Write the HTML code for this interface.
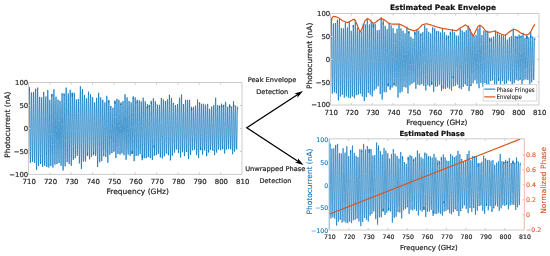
<!DOCTYPE html>
<html><head><meta charset="utf-8"><title>Fringe analysis</title>
<style>html,body{margin:0;padding:0;background:#fff;width:550px;height:256px;overflow:hidden}
svg{display:block} text{font-family:'DejaVu Sans','Liberation Sans',sans-serif}</style></head>
<body><svg width="550" height="256" viewBox="0 0 550 256">
<rect width="550" height="256" fill="#fff"/>
<clipPath id="c1"><rect x="28.5" y="82.5" width="213.5" height="91.9"/></clipPath>
<clipPath id="c2"><rect x="330.5" y="13.5" width="208.5" height="91.5"/></clipPath>
<clipPath id="c3"><rect x="329.2" y="138.8" width="195.09999999999997" height="91.19999999999999"/></clipPath>
<filter id="bl" x="-5%" y="-5%" width="110%" height="110%"><feGaussianBlur stdDeviation="0.3"/></filter>
<g filter="url(#bl)"><polyline clip-path="url(#c1)" fill="none" stroke="#0072BD" stroke-width="0.72" stroke-linejoin="round" points="28.50,157.33 28.61,155.66 28.71,147.11 28.82,130.93 28.93,121.93 29.03,108.23 29.14,96.60 29.25,93.94 29.35,91.20 29.46,87.25 29.57,92.01 29.67,100.41 29.78,110.41 29.89,124.12 29.99,137.64 30.10,146.43 30.21,156.92 30.31,162.90 30.42,161.97 30.53,161.09 30.63,154.77 30.74,148.92 30.85,137.82 30.96,127.01 31.06,115.64 31.17,103.94 31.28,98.52 31.38,92.50 31.49,92.50 31.60,92.50 31.70,105.43 31.81,110.48 31.92,123.11 32.02,134.25 32.13,147.41 32.24,154.23 32.34,157.86 32.45,161.70 32.56,160.24 32.66,156.08 32.77,145.53 32.88,137.59 32.98,130.34 33.09,116.38 33.20,108.79 33.30,103.52 33.41,94.01 33.52,92.00 33.62,94.95 33.73,103.64 33.84,112.52 33.94,119.88 34.05,133.52 34.16,144.98 34.26,154.64 34.37,161.15 34.48,162.91 34.58,162.66 34.69,158.64 34.80,152.85 34.90,139.31 35.01,129.37 35.12,113.82 35.23,107.03 35.33,96.15 35.44,90.39 35.55,91.15 35.65,88.70 35.76,95.19 35.87,108.68 35.97,118.65 36.08,132.60 36.19,150.90 36.29,156.65 36.40,165.27 36.51,169.23 36.61,169.90 36.72,165.45 36.83,157.05 36.93,143.33 37.04,131.90 37.15,119.12 37.25,103.93 37.36,97.74 37.47,90.82 37.57,90.95 37.68,87.60 37.79,93.53 37.89,102.89 38.00,115.04 38.11,128.94 38.21,141.43 38.32,153.41 38.43,161.72 38.53,166.01 38.64,163.98 38.75,162.53 38.85,157.01 38.96,148.59 39.07,137.60 39.17,121.84 39.28,112.92 39.39,104.65 39.50,99.17 39.60,97.83 39.71,96.92 39.82,99.73 39.92,109.63 40.03,119.13 40.14,130.12 40.24,140.52 40.35,153.50 40.46,158.65 40.56,164.00 40.67,162.30 40.78,162.87 40.88,154.65 40.99,144.50 41.10,137.70 41.20,127.37 41.31,115.54 41.42,107.10 41.52,102.65 41.63,97.50 41.74,97.50 41.84,102.80 41.95,109.99 42.06,121.24 42.16,129.82 42.27,143.98 42.38,154.00 42.48,157.78 42.59,166.99 42.70,165.01 42.80,161.99 42.91,158.34 43.02,148.70 43.12,134.87 43.23,126.60 43.34,115.46 43.44,106.61 43.55,96.50 43.66,92.00 43.77,92.00 43.87,97.99 43.98,105.13 44.09,114.48 44.19,124.65 44.30,137.60 44.41,147.97 44.51,156.89 44.62,164.00 44.73,165.80 44.83,163.85 44.94,159.20 45.05,149.85 45.15,136.88 45.26,127.68 45.37,117.27 45.47,110.45 45.58,99.06 45.69,99.02 45.79,97.41 45.90,96.46 46.01,103.45 46.11,114.52 46.22,128.65 46.33,138.02 46.43,149.72 46.54,156.54 46.65,159.93 46.75,166.50 46.86,167.00 46.97,162.85 47.07,152.28 47.18,141.46 47.29,130.86 47.39,116.12 47.50,107.34 47.61,94.57 47.71,90.10 47.82,90.10 47.93,93.94 48.04,98.83 48.14,109.83 48.25,122.16 48.36,134.71 48.46,148.56 48.57,159.05 48.68,162.21 48.78,167.50 48.89,166.36 49.00,160.82 49.10,158.59 49.21,147.21 49.32,134.45 49.42,122.88 49.53,114.14 49.64,103.50 49.74,99.91 49.85,100.94 49.96,102.46 50.06,104.67 50.17,113.50 50.28,127.95 50.38,132.93 50.49,144.91 50.60,152.68 50.70,162.54 50.81,165.80 50.92,165.80 51.02,156.84 51.13,154.64 51.24,141.60 51.34,134.35 51.45,121.15 51.56,113.72 51.66,102.60 51.77,94.34 51.88,96.31 51.98,94.00 52.09,100.61 52.20,111.79 52.31,121.67 52.41,133.53 52.52,144.52 52.63,155.69 52.73,163.94 52.84,167.30 52.95,167.50 53.05,165.92 53.16,156.23 53.27,144.14 53.37,136.34 53.48,120.74 53.59,109.98 53.69,100.71 53.80,90.64 53.91,90.32 54.01,89.30 54.12,97.26 54.23,103.63 54.33,115.68 54.44,128.82 54.55,138.48 54.65,150.62 54.76,157.50 54.87,163.58 54.97,164.60 55.08,161.88 55.19,155.43 55.29,144.89 55.40,137.67 55.51,124.80 55.61,117.20 55.72,103.88 55.83,100.78 55.93,99.19 56.04,96.71 56.15,98.87 56.25,111.10 56.36,120.01 56.47,130.35 56.58,142.13 56.68,149.33 56.79,159.32 56.90,163.98 57.00,162.89 57.11,163.13 57.22,155.49 57.32,149.99 57.43,140.57 57.54,131.14 57.64,114.18 57.75,109.54 57.86,102.27 57.96,99.65 58.07,99.60 58.18,103.45 58.28,106.63 58.39,120.89 58.50,131.99 58.60,141.34 58.71,151.39 58.82,155.11 58.92,159.80 59.03,162.90 59.14,162.90 59.24,156.77 59.35,145.93 59.46,144.21 59.56,127.78 59.67,120.73 59.78,108.20 59.88,105.74 59.99,100.88 60.10,103.08 60.20,105.52 60.31,107.72 60.42,117.72 60.52,130.38 60.63,142.01 60.74,153.84 60.85,159.16 60.95,163.83 61.06,165.80 61.17,164.27 61.27,160.71 61.38,150.14 61.49,139.21 61.59,124.79 61.70,111.96 61.81,105.33 61.91,98.73 62.02,93.09 62.13,93.62 62.23,97.51 62.34,103.67 62.45,115.88 62.55,125.11 62.66,139.23 62.77,150.57 62.87,161.24 62.98,168.95 63.09,170.50 63.19,169.49 63.30,164.61 63.41,154.23 63.51,143.20 63.62,132.94 63.73,117.62 63.83,108.95 63.94,98.99 64.05,93.35 64.15,95.67 64.26,94.78 64.37,101.43 64.47,111.68 64.58,123.75 64.69,135.89 64.79,148.58 64.90,156.95 65.01,164.20 65.12,166.08 65.22,166.40 65.33,159.76 65.44,151.28 65.54,140.53 65.65,128.38 65.76,113.79 65.86,106.41 65.97,93.59 66.08,88.57 66.18,87.60 66.29,89.78 66.40,98.32 66.50,107.34 66.61,117.50 66.72,130.49 66.82,142.95 66.93,156.32 67.04,159.80 67.14,162.18 67.25,161.96 67.36,159.12 67.46,154.87 67.57,140.26 67.68,130.85 67.78,123.65 67.89,107.80 68.00,102.93 68.10,97.36 68.21,94.58 68.32,93.40 68.42,102.14 68.53,109.68 68.64,117.67 68.74,129.50 68.85,143.77 68.96,153.57 69.06,162.37 69.17,164.00 69.28,162.61 69.39,158.55 69.49,151.49 69.60,139.62 69.71,131.06 69.81,117.65 69.92,105.12 70.03,96.51 70.13,89.90 70.24,89.90 70.35,92.54 70.45,97.23 70.56,108.89 70.67,121.44 70.77,129.75 70.88,143.00 70.99,152.79 71.09,164.19 71.20,165.80 71.31,165.80 71.41,163.14 71.52,158.37 71.63,144.77 71.73,130.78 71.84,119.61 71.95,110.20 72.05,100.02 72.16,92.59 72.27,96.78 72.37,93.51 72.48,97.35 72.59,105.11 72.69,113.35 72.80,125.50 72.91,137.93 73.01,147.50 73.12,153.77 73.23,159.90 73.33,159.70 73.44,154.78 73.55,146.43 73.66,141.36 73.76,130.62 73.87,119.17 73.98,106.81 74.08,100.91 74.19,92.80 74.30,94.62 74.40,94.42 74.51,99.07 74.62,104.76 74.72,113.86 74.83,129.18 74.94,138.62 75.04,145.61 75.15,154.51 75.26,158.20 75.36,156.13 75.47,154.57 75.58,149.15 75.68,143.23 75.79,131.30 75.90,124.01 76.00,112.50 76.11,108.67 76.22,103.40 76.32,99.50 76.43,101.72 76.54,102.97 76.64,110.04 76.75,120.37 76.86,127.65 76.96,137.53 77.07,143.31 77.18,152.40 77.28,155.75 77.39,153.48 77.50,149.31 77.60,144.67 77.71,140.88 77.82,131.78 77.93,120.04 78.03,114.23 78.14,108.39 78.25,101.20 78.35,98.90 78.46,101.32 78.57,106.99 78.67,113.73 78.78,119.18 78.89,132.30 78.99,141.73 79.10,150.57 79.21,157.20 79.31,163.45 79.42,163.01 79.53,162.71 79.63,155.02 79.74,146.38 79.85,130.47 79.95,119.85 80.06,108.99 80.17,98.00 80.27,90.47 80.38,86.30 80.49,90.19 80.59,94.20 80.70,101.84 80.81,108.19 80.91,124.39 81.02,139.81 81.13,150.46 81.23,157.57 81.34,167.72 81.45,169.00 81.55,164.06 81.66,158.70 81.77,148.42 81.87,138.42 81.98,120.88 82.09,108.72 82.20,100.13 82.30,92.23 82.41,93.38 82.52,89.30 82.62,94.56 82.73,100.97 82.84,110.63 82.94,124.10 83.05,138.37 83.16,145.33 83.26,155.89 83.37,160.52 83.48,161.60 83.58,160.11 83.69,158.13 83.80,143.18 83.90,134.52 84.01,121.67 84.12,109.18 84.22,103.43 84.33,100.00 84.44,94.83 84.54,95.57 84.65,98.09 84.76,104.08 84.86,117.44 84.97,124.11 85.08,138.76 85.18,145.74 85.29,154.73 85.40,160.40 85.50,161.60 85.61,160.81 85.72,155.95 85.82,150.24 85.93,137.66 86.04,123.86 86.14,113.54 86.25,106.06 86.36,100.81 86.47,99.98 86.57,98.30 86.68,101.91 86.79,107.82 86.89,116.27 87.00,124.89 87.11,135.45 87.21,143.64 87.32,152.60 87.43,155.93 87.53,152.71 87.64,155.35 87.75,150.65 87.85,141.43 87.96,131.35 88.07,124.04 88.17,111.96 88.28,100.85 88.39,95.35 88.49,92.00 88.60,91.70 88.71,96.83 88.81,102.22 88.92,112.66 89.03,119.86 89.13,137.45 89.24,145.51 89.35,153.70 89.45,157.08 89.56,159.28 89.67,156.25 89.77,156.66 89.88,144.43 89.99,136.33 90.09,126.02 90.20,113.02 90.31,106.30 90.41,101.41 90.52,94.40 90.63,96.15 90.74,97.72 90.84,102.04 90.95,110.75 91.06,118.49 91.16,132.24 91.27,144.42 91.38,150.92 91.48,156.51 91.59,156.90 91.70,154.79 91.80,152.41 91.91,147.87 92.02,134.12 92.12,125.86 92.23,115.41 92.34,107.47 92.44,100.19 92.55,97.75 92.66,97.20 92.76,99.39 92.87,105.00 92.98,112.73 93.08,125.30 93.19,132.45 93.30,141.51 93.40,147.93 93.51,155.20 93.62,152.17 93.72,153.93 93.83,152.56 93.94,147.36 94.04,136.95 94.15,127.99 94.26,120.65 94.36,111.68 94.47,107.38 94.58,102.40 94.68,103.91 94.79,105.10 94.90,108.27 95.01,112.45 95.11,127.42 95.22,135.19 95.33,144.09 95.43,147.86 95.54,155.80 95.65,155.80 95.75,154.72 95.86,152.31 95.97,145.49 96.07,135.94 96.18,129.32 96.29,118.60 96.39,108.30 96.50,100.90 96.61,97.86 96.71,100.27 96.82,100.98 96.93,105.22 97.03,114.93 97.14,127.09 97.25,140.10 97.35,148.12 97.46,159.26 97.57,166.42 97.67,166.90 97.78,162.89 97.89,160.00 97.99,149.82 98.10,141.99 98.21,127.32 98.31,118.18 98.42,106.77 98.53,93.85 98.63,92.80 98.74,93.91 98.85,96.24 98.95,102.08 99.06,109.84 99.17,124.11 99.28,138.12 99.38,146.43 99.49,155.00 99.60,161.05 99.70,161.50 99.81,162.25 99.92,156.78 100.02,152.75 100.13,139.43 100.24,126.35 100.34,118.03 100.45,109.45 100.56,102.35 100.66,97.50 100.77,99.36 100.88,100.57 100.98,105.37 101.09,113.18 101.20,125.28 101.30,134.36 101.41,145.26 101.52,152.68 101.62,158.74 101.73,161.00 101.84,160.00 101.94,154.19 102.05,150.68 102.16,140.44 102.26,128.84 102.37,122.13 102.48,111.05 102.58,106.62 102.69,99.90 102.80,99.90 102.90,99.90 103.01,107.98 103.12,113.61 103.22,123.56 103.33,132.87 103.44,138.96 103.55,151.48 103.65,152.11 103.76,156.30 103.87,152.81 103.97,151.41 104.08,146.91 104.19,137.32 104.29,127.71 104.40,120.27 104.51,111.68 104.61,107.60 104.72,107.08 104.83,102.40 104.93,103.52 105.04,109.52 105.15,116.80 105.25,123.53 105.36,135.24 105.47,144.16 105.57,150.23 105.68,152.53 105.79,156.90 105.89,153.70 106.00,152.93 106.11,146.90 106.21,133.67 106.32,126.22 106.43,118.53 106.53,108.01 106.64,98.90 106.75,95.80 106.85,96.73 106.96,98.01 107.07,103.57 107.17,114.84 107.28,123.47 107.39,135.21 107.49,146.53 107.60,155.08 107.71,159.99 107.82,162.66 107.92,162.80 108.03,158.29 108.14,148.39 108.24,140.92 108.35,129.48 108.46,118.74 108.56,110.84 108.67,100.84 108.78,102.49 108.88,100.10 108.99,103.11 109.10,104.11 109.20,111.54 109.31,126.78 109.42,133.94 109.52,139.39 109.63,146.17 109.74,151.08 109.84,154.60 109.95,152.92 110.06,149.17 110.16,144.88 110.27,135.59 110.38,133.52 110.48,120.13 110.59,116.04 110.70,106.91 110.80,105.90 110.91,106.55 111.02,106.33 111.12,113.22 111.23,119.69 111.34,128.60 111.44,133.87 111.55,140.53 111.66,145.88 111.76,152.34 111.87,152.02 111.98,153.16 112.09,150.19 112.19,143.70 112.30,136.05 112.41,131.08 112.51,123.40 112.62,116.60 112.73,111.09 112.83,109.96 112.94,107.70 113.05,110.57 113.15,113.27 113.26,121.75 113.37,126.83 113.47,134.40 113.58,143.05 113.69,144.49 113.79,151.56 113.90,150.69 114.01,151.25 114.11,150.45 114.22,143.71 114.33,134.21 114.43,126.01 114.54,117.21 114.65,110.04 114.75,106.91 114.86,100.59 114.97,103.75 115.07,101.59 115.18,109.09 115.29,116.84 115.39,125.14 115.50,133.89 115.61,146.06 115.71,154.10 115.82,157.91 115.93,158.10 116.03,158.10 116.14,149.88 116.25,147.93 116.36,136.08 116.46,130.13 116.57,117.49 116.68,110.19 116.78,103.33 116.89,98.90 117.00,98.90 117.10,101.24 117.21,106.58 117.32,115.95 117.42,121.77 117.53,132.37 117.64,138.87 117.74,147.45 117.85,148.86 117.96,154.00 118.06,153.46 118.17,147.41 118.28,143.39 118.38,136.20 118.49,126.39 118.60,119.71 118.70,109.28 118.81,99.90 118.92,99.90 119.02,102.15 119.13,104.29 119.24,108.67 119.34,113.43 119.45,125.43 119.56,134.20 119.66,139.70 119.77,146.60 119.88,153.46 119.98,154.60 120.09,154.60 120.20,150.94 120.30,147.63 120.41,134.39 120.52,128.38 120.63,117.93 120.73,108.02 120.84,103.80 120.95,105.02 121.05,102.40 121.16,102.99 121.27,111.45 121.37,118.74 121.48,125.28 121.59,136.42 121.69,138.56 121.80,152.02 121.91,153.40 122.01,153.40 122.12,152.60 122.23,147.95 122.33,141.54 122.44,134.60 122.55,123.52 122.65,121.12 122.76,109.86 122.87,105.72 122.97,101.20 123.08,101.00 123.19,105.71 123.29,110.58 123.40,115.35 123.51,124.79 123.61,135.60 123.72,138.84 123.83,145.01 123.93,155.20 124.04,154.64 124.15,149.02 124.25,147.42 124.36,140.99 124.47,132.44 124.57,122.85 124.68,112.29 124.79,104.30 124.90,95.57 125.00,94.28 125.11,94.34 125.22,99.27 125.32,103.89 125.43,114.65 125.54,124.01 125.64,132.75 125.75,144.09 125.86,151.94 125.96,157.45 126.07,159.79 126.18,158.41 126.28,153.78 126.39,144.18 126.50,138.07 126.60,123.30 126.71,115.69 126.82,108.51 126.92,101.75 127.03,98.82 127.14,97.35 127.24,102.13 127.35,104.62 127.46,116.15 127.56,128.10 127.67,134.70 127.78,145.66 127.88,148.91 127.99,151.26 128.10,153.40 128.20,154.60 128.31,150.02 128.42,138.72 128.52,133.23 128.63,124.98 128.74,114.52 128.84,104.66 128.95,101.53 129.06,101.00 129.17,101.00 129.27,103.54 129.38,111.56 129.49,120.10 129.59,126.89 129.70,137.71 129.81,144.24 129.91,150.40 130.02,150.31 130.13,155.80 130.23,154.24 130.34,149.84 130.45,142.03 130.55,132.70 130.66,126.72 130.77,118.88 130.87,113.21 130.98,106.79 131.09,102.40 131.19,102.89 131.30,107.97 131.41,112.33 131.51,118.94 131.62,126.42 131.73,136.88 131.83,143.87 131.94,152.71 132.05,154.00 132.15,150.98 132.26,154.00 132.37,147.34 132.47,138.80 132.58,130.77 132.69,121.84 132.79,111.20 132.90,103.30 133.01,97.96 133.11,98.70 133.22,96.28 133.33,101.94 133.44,108.88 133.54,117.30 133.65,127.64 133.76,138.31 133.86,150.85 133.97,155.96 134.08,160.13 134.18,161.21 134.29,158.04 134.40,154.72 134.50,145.86 134.61,133.32 134.72,126.02 134.82,112.40 134.93,104.82 135.04,98.34 135.14,98.11 135.25,97.41 135.36,99.94 135.46,105.19 135.57,113.98 135.68,125.98 135.78,136.18 135.89,146.24 136.00,150.76 136.10,155.92 136.21,155.05 136.32,150.52 136.42,148.57 136.53,143.81 136.64,133.77 136.74,125.55 136.85,116.33 136.96,104.51 137.06,101.58 137.17,102.74 137.28,99.90 137.38,102.79 137.49,112.48 137.60,121.66 137.71,130.56 137.81,138.85 137.92,146.49 138.03,151.75 138.13,155.23 138.24,155.71 138.35,152.68 138.45,148.42 138.56,144.67 138.67,132.94 138.77,122.58 138.88,114.98 138.99,105.35 139.09,102.86 139.20,102.02 139.31,100.30 139.41,104.26 139.52,111.44 139.63,118.16 139.73,126.74 139.84,136.72 139.95,149.40 140.05,151.73 140.16,154.00 140.27,154.00 140.37,150.68 140.48,143.64 140.59,139.53 140.69,132.34 140.80,117.87 140.91,114.45 141.01,109.44 141.12,102.55 141.23,101.50 141.33,104.35 141.44,106.20 141.55,115.70 141.65,125.41 141.76,133.09 141.87,141.43 141.98,152.15 142.08,156.32 142.19,160.20 142.30,154.73 142.40,157.72 142.51,147.33 142.62,141.10 142.72,131.01 142.83,118.98 142.94,109.11 143.04,100.82 143.15,97.72 143.26,97.91 143.36,99.69 143.47,102.80 143.58,110.30 143.68,118.18 143.79,130.10 143.90,138.67 144.00,146.14 144.11,154.58 144.22,158.10 144.32,158.10 144.43,156.75 144.54,145.09 144.64,141.45 144.75,128.37 144.86,120.17 144.96,109.62 145.07,104.27 145.18,102.21 145.28,101.31 145.39,102.84 145.50,107.66 145.60,116.34 145.71,124.38 145.82,130.92 145.92,146.11 146.03,150.18 146.14,157.71 146.25,158.21 146.35,156.40 146.46,154.46 146.57,146.75 146.67,143.00 146.78,128.92 146.89,122.92 146.99,112.49 147.10,106.99 147.21,108.33 147.31,104.18 147.42,104.58 147.53,107.05 147.63,116.47 147.74,125.02 147.85,137.05 147.95,140.28 148.06,146.61 148.17,154.70 148.27,156.90 148.38,156.90 148.49,150.73 148.59,141.37 148.70,137.26 148.81,127.63 148.91,120.39 149.02,115.64 149.13,105.64 149.23,107.10 149.34,104.76 149.45,106.33 149.55,110.35 149.66,118.43 149.77,127.02 149.87,138.05 149.98,147.33 150.09,151.64 150.19,157.60 150.30,158.10 150.41,158.10 150.52,153.50 150.62,149.22 150.73,139.71 150.84,130.80 150.94,118.19 151.05,109.70 151.16,100.76 151.26,103.94 151.37,102.27 151.48,102.37 151.58,110.35 151.69,118.69 151.80,124.41 151.90,137.95 152.01,148.45 152.12,155.99 152.22,157.65 152.33,159.34 152.44,159.90 152.54,155.16 152.65,144.84 152.76,135.40 152.86,127.48 152.97,115.29 153.08,106.91 153.18,105.09 153.29,99.22 153.40,98.30 153.50,103.09 153.61,111.97 153.72,116.65 153.82,124.03 153.93,131.97 154.04,147.50 154.14,145.48 154.25,155.80 154.36,154.02 154.46,151.71 154.57,147.58 154.68,142.23 154.79,136.23 154.89,123.93 155.00,117.76 155.11,113.77 155.21,101.30 155.32,101.30 155.43,101.30 155.53,106.99 155.64,108.50 155.75,116.02 155.85,124.86 155.96,136.59 156.07,146.68 156.17,150.93 156.28,155.20 156.39,155.20 156.49,152.97 156.60,150.42 156.71,142.30 156.81,134.26 156.92,122.12 157.03,115.34 157.13,111.20 157.24,104.50 157.35,106.00 157.45,105.94 157.56,107.03 157.67,116.62 157.77,122.13 157.88,132.15 157.99,137.56 158.09,141.90 158.20,151.69 158.31,152.99 158.41,154.00 158.52,153.72 158.63,149.20 158.73,137.65 158.84,128.18 158.95,123.49 159.06,118.10 159.16,109.28 159.27,107.05 159.38,104.80 159.48,105.43 159.59,109.37 159.70,115.02 159.80,125.10 159.91,133.46 160.02,144.39 160.12,149.44 160.23,156.73 160.34,157.34 160.44,157.50 160.55,153.89 160.66,147.28 160.76,142.55 160.87,131.94 160.98,122.40 161.08,110.31 161.19,101.35 161.30,98.30 161.40,98.94 161.51,98.30 161.62,107.68 161.72,109.59 161.83,122.78 161.94,136.67 162.04,136.34 162.15,146.57 162.26,157.32 162.36,158.10 162.47,158.53 162.58,154.47 162.68,151.10 162.79,141.23 162.90,129.52 163.00,120.24 163.11,109.63 163.22,104.78 163.33,99.50 163.43,100.85 163.54,101.09 163.65,110.01 163.75,116.07 163.86,120.15 163.97,133.74 164.07,139.99 164.18,148.61 164.29,155.68 164.39,156.30 164.50,156.30 164.61,152.79 164.71,144.33 164.82,136.46 164.93,129.68 165.03,121.25 165.14,111.02 165.25,105.56 165.35,101.00 165.46,101.00 165.57,101.85 165.67,108.39 165.78,115.68 165.89,125.30 165.99,134.18 166.10,142.59 166.21,148.25 166.31,152.88 166.42,152.60 166.53,153.63 166.63,149.32 166.74,144.81 166.85,131.42 166.95,124.54 167.06,113.35 167.17,107.46 167.27,100.42 167.38,100.45 167.49,99.50 167.60,99.50 167.70,110.36 167.81,113.59 167.92,121.56 168.02,133.12 168.13,140.98 168.24,146.87 168.34,154.89 168.45,154.43 168.56,155.18 168.66,150.03 168.77,142.51 168.88,132.41 168.98,121.88 169.09,111.63 169.20,106.84 169.30,94.80 169.41,94.80 169.52,94.80 169.62,99.86 169.73,106.28 169.84,114.37 169.94,125.25 170.05,140.00 170.16,145.22 170.26,148.82 170.37,160.40 170.48,158.49 170.58,157.47 170.69,152.98 170.80,142.20 170.90,137.32 171.01,124.43 171.12,112.12 171.22,106.97 171.33,101.60 171.44,98.00 171.54,99.66 171.65,99.65 171.76,110.69 171.87,115.68 171.97,129.07 172.08,134.81 172.19,144.61 172.29,155.30 172.40,154.52 172.51,155.30 172.61,153.69 172.72,144.93 172.83,142.82 172.93,134.23 173.04,120.61 173.15,114.79 173.25,105.26 173.36,102.97 173.47,103.39 173.57,102.89 173.68,104.17 173.79,110.71 173.89,120.11 174.00,128.41 174.11,136.96 174.21,145.03 174.32,145.62 174.43,152.16 174.53,152.60 174.64,150.78 174.75,143.72 174.85,137.31 174.96,131.13 175.07,124.26 175.17,115.72 175.28,113.13 175.39,108.70 175.49,105.00 175.60,107.24 175.71,109.33 175.81,113.41 175.92,121.51 176.03,130.29 176.14,133.62 176.24,142.63 176.35,149.05 176.46,149.22 176.56,149.54 176.67,149.08 176.78,142.23 176.88,135.89 176.99,131.57 177.10,120.36 177.20,113.53 177.31,108.33 177.42,107.27 177.52,104.02 177.63,105.32 177.74,109.47 177.84,118.29 177.95,122.76 178.06,134.54 178.16,140.51 178.27,144.16 178.38,152.45 178.48,153.20 178.59,150.23 178.70,149.07 178.80,142.37 178.91,132.96 179.02,122.00 179.12,118.82 179.23,107.99 179.34,102.09 179.44,98.70 179.55,97.83 179.66,100.70 179.76,104.52 179.87,115.14 179.98,123.10 180.08,132.85 180.19,144.51 180.30,150.64 180.41,152.91 180.51,157.29 180.62,157.55 180.73,151.60 180.83,145.54 180.94,133.70 181.05,122.10 181.15,115.04 181.26,105.08 181.37,96.16 181.47,95.83 181.58,94.60 181.69,100.16 181.79,105.88 181.90,113.56 182.01,118.10 182.11,132.55 182.22,141.59 182.33,148.62 182.43,152.23 182.54,151.98 182.65,151.16 182.75,143.51 182.86,140.61 182.97,130.68 183.07,124.62 183.18,116.19 183.29,113.36 183.39,106.31 183.50,104.05 183.61,104.97 183.71,111.87 183.82,112.13 183.93,122.08 184.03,130.74 184.14,138.98 184.25,146.55 184.35,151.22 184.46,156.10 184.57,156.10 184.68,152.98 184.78,147.97 184.89,141.42 185.00,132.86 185.10,123.98 185.21,113.81 185.32,104.37 185.42,103.67 185.53,99.80 185.64,99.80 185.74,105.63 185.85,109.56 185.96,121.54 186.06,130.65 186.17,138.29 186.28,144.02 186.38,149.29 186.49,152.00 186.60,151.49 186.70,152.00 186.81,142.66 186.92,138.91 187.02,129.09 187.13,119.99 187.24,113.46 187.34,107.56 187.45,102.90 187.56,99.83 187.66,100.59 187.77,105.56 187.88,115.87 187.98,124.64 188.09,134.71 188.20,141.62 188.30,154.18 188.41,153.83 188.52,159.00 188.62,159.00 188.73,153.92 188.84,146.13 188.95,138.83 189.05,127.84 189.16,119.81 189.27,109.10 189.37,102.37 189.48,100.88 189.59,99.80 189.69,101.90 189.80,107.12 189.91,116.28 190.01,123.83 190.12,131.03 190.23,143.46 190.33,146.94 190.44,152.27 190.55,154.36 190.65,154.90 190.76,150.61 190.87,143.56 190.97,138.95 191.08,129.44 191.19,126.17 191.29,113.76 191.40,111.16 191.51,106.80 191.61,110.44 191.72,108.05 191.83,114.15 191.93,118.26 192.04,128.46 192.15,135.11 192.25,136.46 192.36,147.38 192.47,150.30 192.57,150.30 192.68,150.30 192.79,143.19 192.89,136.76 193.00,134.51 193.11,129.16 193.22,116.89 193.32,111.12 193.43,107.46 193.54,106.80 193.64,108.90 193.75,110.30 193.86,117.24 193.96,123.51 194.07,126.11 194.18,136.21 194.28,137.09 194.39,146.01 194.50,149.70 194.60,148.15 194.71,144.48 194.82,142.84 194.92,140.13 195.03,130.23 195.14,121.05 195.24,117.60 195.35,112.44 195.46,105.60 195.56,105.60 195.67,108.64 195.78,110.95 195.88,117.53 195.99,123.08 196.10,131.67 196.20,137.86 196.31,145.73 196.42,155.14 196.52,154.35 196.63,153.52 196.74,151.39 196.84,144.65 196.95,139.77 197.06,131.47 197.16,118.73 197.27,113.89 197.38,109.13 197.49,99.50 197.59,100.84 197.70,101.90 197.81,108.76 197.91,115.98 198.02,124.70 198.13,132.95 198.23,140.92 198.34,153.71 198.45,153.68 198.55,157.90 198.66,157.90 198.77,152.43 198.87,147.68 198.98,142.31 199.09,127.00 199.19,122.85 199.30,112.67 199.41,106.51 199.51,102.40 199.62,103.34 199.73,102.77 199.83,110.61 199.94,113.78 200.05,125.10 200.15,132.60 200.26,136.16 200.37,145.38 200.47,150.00 200.58,147.76 200.69,150.19 200.79,148.77 200.90,140.18 201.01,136.45 201.11,124.24 201.22,116.30 201.33,112.81 201.43,107.94 201.54,103.82 201.65,104.12 201.76,108.71 201.86,111.11 201.97,123.03 202.08,128.30 202.18,136.67 202.29,144.10 202.40,149.10 202.50,154.60 202.61,153.50 202.72,153.21 202.82,149.74 202.93,144.58 203.04,136.34 203.14,125.05 203.25,119.41 203.36,110.74 203.46,104.15 203.57,103.80 203.68,103.80 203.78,108.21 203.89,115.08 204.00,118.26 204.10,127.48 204.21,133.87 204.32,142.90 204.42,146.05 204.53,149.74 204.64,150.44 204.74,148.67 204.85,144.35 204.96,138.26 205.06,130.74 205.17,121.48 205.28,116.94 205.38,106.88 205.49,106.35 205.60,104.70 205.70,106.16 205.81,110.48 205.92,112.63 206.03,124.86 206.13,135.29 206.24,142.66 206.35,149.16 206.45,149.87 206.56,156.14 206.67,154.62 206.77,155.11 206.88,147.00 206.99,138.87 207.09,128.16 207.20,123.99 207.31,113.68 207.41,108.03 207.52,106.68 207.63,103.88 207.73,106.23 207.84,114.52 207.95,115.76 208.05,123.85 208.16,134.11 208.27,143.77 208.37,145.26 208.48,152.07 208.59,152.67 208.69,151.20 208.80,151.52 208.91,143.74 209.01,138.82 209.12,130.87 209.23,123.39 209.33,116.63 209.44,109.64 209.55,108.72 209.65,108.98 209.76,111.27 209.87,114.25 209.97,122.22 210.08,128.15 210.19,134.19 210.30,141.45 210.40,145.69 210.51,149.80 210.62,146.12 210.72,146.09 210.83,144.18 210.94,139.73 211.04,128.97 211.15,125.25 211.26,119.12 211.36,112.55 211.47,108.39 211.58,106.80 211.68,107.36 211.79,106.80 211.90,116.53 212.00,120.01 212.11,130.32 212.22,132.37 212.32,142.78 212.43,147.24 212.54,148.36 212.64,148.30 212.75,150.69 212.86,145.02 212.96,140.84 213.07,130.76 213.18,123.58 213.28,116.91 213.39,111.69 213.50,107.25 213.60,106.39 213.71,105.15 213.82,107.11 213.92,119.46 214.03,123.71 214.14,132.58 214.24,139.03 214.35,148.70 214.46,152.36 214.57,155.10 214.67,153.38 214.78,151.27 214.89,145.76 214.99,136.67 215.10,128.49 215.21,121.39 215.31,108.83 215.42,102.61 215.53,99.24 215.63,97.80 215.74,97.80 215.85,106.59 215.95,113.10 216.06,117.39 216.17,126.75 216.27,139.37 216.38,147.41 216.49,151.40 216.59,152.50 216.70,152.50 216.81,148.36 216.91,145.30 217.02,138.12 217.13,126.36 217.23,121.53 217.34,113.58 217.45,107.17 217.55,105.00 217.66,105.83 217.77,107.45 217.87,113.67 217.98,115.37 218.09,124.89 218.19,135.87 218.30,140.97 218.41,145.39 218.51,149.50 218.62,148.24 218.73,147.66 218.84,147.26 218.94,140.45 219.05,135.25 219.16,124.47 219.26,117.00 219.37,105.81 219.48,105.99 219.58,107.80 219.69,105.60 219.80,107.10 219.90,114.75 220.01,120.79 220.12,127.49 220.22,133.84 220.33,141.58 220.44,148.13 220.54,148.10 220.65,150.20 220.76,148.97 220.86,146.20 220.97,138.85 221.08,128.79 221.18,125.21 221.29,115.14 221.40,107.79 221.50,105.89 221.61,103.70 221.72,106.86 221.82,105.95 221.93,111.95 222.04,120.59 222.14,131.95 222.25,138.14 222.36,140.87 222.46,144.20 222.57,149.20 222.68,147.30 222.78,148.01 222.89,142.30 223.00,135.31 223.11,126.94 223.21,122.83 223.32,111.34 223.43,105.21 223.53,106.46 223.64,106.04 223.75,104.83 223.85,111.17 223.96,120.88 224.07,122.93 224.17,132.48 224.28,141.51 224.39,143.27 224.49,151.34 224.60,153.50 224.71,152.32 224.81,150.70 224.92,144.12 225.03,134.27 225.13,127.44 225.24,118.84 225.35,107.61 225.45,103.66 225.56,101.90 225.67,101.90 225.77,103.86 225.88,107.00 225.99,116.45 226.09,120.81 226.20,133.96 226.31,139.98 226.41,147.83 226.52,149.55 226.63,149.03 226.73,145.87 226.84,146.05 226.95,139.29 227.05,133.21 227.16,126.70 227.27,120.65 227.38,112.59 227.48,111.88 227.59,106.80 227.70,107.41 227.80,111.50 227.91,116.95 228.02,123.85 228.12,124.81 228.23,137.61 228.34,138.35 228.44,144.68 228.55,148.80 228.66,148.80 228.76,144.53 228.87,138.88 228.98,137.67 229.08,129.35 229.19,119.46 229.30,113.96 229.40,105.42 229.51,106.62 229.62,104.40 229.72,108.02 229.83,105.55 229.94,116.39 230.04,126.06 230.15,129.75 230.26,136.99 230.36,139.33 230.47,147.81 230.58,149.28 230.68,147.77 230.79,143.21 230.90,141.47 231.00,133.17 231.11,127.07 231.22,121.49 231.32,114.52 231.43,109.80 231.54,108.75 231.65,106.50 231.75,111.35 231.86,111.26 231.97,118.18 232.07,127.82 232.18,137.11 232.29,143.59 232.39,148.38 232.50,151.87 232.61,154.17 232.71,151.51 232.82,150.15 232.93,142.12 233.03,137.24 233.14,124.03 233.25,116.52 233.35,110.17 233.46,101.95 233.57,101.20 233.67,106.91 233.78,104.79 233.89,113.15 233.99,115.97 234.10,121.84 234.21,135.92 234.31,142.50 234.42,149.03 234.53,151.44 234.63,151.63 234.74,148.42 234.85,148.11 234.95,136.93 235.06,133.81 235.17,123.48 235.27,114.28 235.38,108.88 235.49,107.76 235.59,105.70 235.70,106.30 235.81,109.04 235.92,112.41 236.02,123.92 236.13,128.38 236.24,135.61 236.34,142.17 236.45,147.05 236.56,147.54 236.66,149.32 236.77,146.04 236.88,141.80 236.98,133.11 237.09,132.54 237.20,119.23 237.30,115.33 237.41,110.11 237.52,108.19 237.62,109.03 237.73,106.30"/></g>
<g fill="none" stroke-width="1">
<line x1="28.5" y1="82.5" x2="242.0" y2="82.5" stroke="#cccccc"/>
<line x1="28.5" y1="174.4" x2="242.0" y2="174.4" stroke="#cccccc"/>
<line x1="28.5" y1="82.5" x2="28.5" y2="174.4" stroke="#cccccc"/>
<line x1="242.0" y1="82.5" x2="242.0" y2="174.4" stroke="#cccccc"/>
<line x1="49.85" y1="82.5" x2="49.85" y2="84.5" stroke="#cccccc"/>
<line x1="49.85" y1="174.4" x2="49.85" y2="172.4" stroke="#cccccc"/>
<line x1="71.20" y1="82.5" x2="71.20" y2="84.5" stroke="#cccccc"/>
<line x1="71.20" y1="174.4" x2="71.20" y2="172.4" stroke="#cccccc"/>
<line x1="92.55" y1="82.5" x2="92.55" y2="84.5" stroke="#cccccc"/>
<line x1="92.55" y1="174.4" x2="92.55" y2="172.4" stroke="#cccccc"/>
<line x1="113.90" y1="82.5" x2="113.90" y2="84.5" stroke="#cccccc"/>
<line x1="113.90" y1="174.4" x2="113.90" y2="172.4" stroke="#cccccc"/>
<line x1="135.25" y1="82.5" x2="135.25" y2="84.5" stroke="#cccccc"/>
<line x1="135.25" y1="174.4" x2="135.25" y2="172.4" stroke="#cccccc"/>
<line x1="156.60" y1="82.5" x2="156.60" y2="84.5" stroke="#cccccc"/>
<line x1="156.60" y1="174.4" x2="156.60" y2="172.4" stroke="#cccccc"/>
<line x1="177.95" y1="82.5" x2="177.95" y2="84.5" stroke="#cccccc"/>
<line x1="177.95" y1="174.4" x2="177.95" y2="172.4" stroke="#cccccc"/>
<line x1="199.30" y1="82.5" x2="199.30" y2="84.5" stroke="#cccccc"/>
<line x1="199.30" y1="174.4" x2="199.30" y2="172.4" stroke="#cccccc"/>
<line x1="220.65" y1="82.5" x2="220.65" y2="84.5" stroke="#cccccc"/>
<line x1="220.65" y1="174.4" x2="220.65" y2="172.4" stroke="#cccccc"/>
<line x1="28.5" y1="105.47" x2="30.5" y2="105.47" stroke="#cccccc"/>
<line x1="242.0" y1="105.47" x2="240.0" y2="105.47" stroke="#cccccc"/>
<line x1="28.5" y1="128.45" x2="30.5" y2="128.45" stroke="#cccccc"/>
<line x1="242.0" y1="128.45" x2="240.0" y2="128.45" stroke="#cccccc"/>
<line x1="28.5" y1="151.43" x2="30.5" y2="151.43" stroke="#cccccc"/>
<line x1="242.0" y1="151.43" x2="240.0" y2="151.43" stroke="#cccccc"/>
</g>
<text x="28.20" y="84.95" font-size="6.9" text-anchor="end" fill="#262626" stroke="#262626" stroke-width="0.2">100</text>
<text x="28.20" y="107.92" font-size="6.9" text-anchor="end" fill="#262626" stroke="#262626" stroke-width="0.2">50</text>
<text x="28.20" y="130.90" font-size="6.9" text-anchor="end" fill="#262626" stroke="#262626" stroke-width="0.2">0</text>
<text x="28.20" y="153.88" font-size="6.9" text-anchor="end" fill="#262626" stroke="#262626" stroke-width="0.2">−50</text>
<text x="28.20" y="176.85" font-size="6.9" text-anchor="end" fill="#262626" stroke="#262626" stroke-width="0.2">−100</text>
<text x="29.20" y="184.10" font-size="6.95" text-anchor="middle" fill="#262626" stroke="#262626" stroke-width="0.2">710</text>
<text x="50.55" y="184.10" font-size="6.95" text-anchor="middle" fill="#262626" stroke="#262626" stroke-width="0.2">720</text>
<text x="71.90" y="184.10" font-size="6.95" text-anchor="middle" fill="#262626" stroke="#262626" stroke-width="0.2">730</text>
<text x="93.25" y="184.10" font-size="6.95" text-anchor="middle" fill="#262626" stroke="#262626" stroke-width="0.2">740</text>
<text x="114.60" y="184.10" font-size="6.95" text-anchor="middle" fill="#262626" stroke="#262626" stroke-width="0.2">750</text>
<text x="135.95" y="184.10" font-size="6.95" text-anchor="middle" fill="#262626" stroke="#262626" stroke-width="0.2">760</text>
<text x="157.30" y="184.10" font-size="6.95" text-anchor="middle" fill="#262626" stroke="#262626" stroke-width="0.2">770</text>
<text x="178.65" y="184.10" font-size="6.95" text-anchor="middle" fill="#262626" stroke="#262626" stroke-width="0.2">780</text>
<text x="200.00" y="184.10" font-size="6.95" text-anchor="middle" fill="#262626" stroke="#262626" stroke-width="0.2">790</text>
<text x="221.35" y="184.10" font-size="6.95" text-anchor="middle" fill="#262626" stroke="#262626" stroke-width="0.2">800</text>
<text x="242.70" y="184.10" font-size="6.95" text-anchor="middle" fill="#262626" stroke="#262626" stroke-width="0.2">810</text>
<text x="137.70" y="193.70" font-size="7.4" text-anchor="middle" fill="#262626" stroke="#262626" stroke-width="0.2" textLength="62.40" lengthAdjust="spacingAndGlyphs">Frequency (GHz)</text>
<text x="9.60" y="124.65" font-size="7.4" text-anchor="middle" fill="#262626" stroke="#262626" stroke-width="0.2" textLength="66.20" lengthAdjust="spacingAndGlyphs" transform="rotate(-90 9.60 124.65)">Photocurrent (nA)</text>
<text x="272.00" y="81.70" font-size="6.5" text-anchor="middle" fill="#262626" stroke="#262626" stroke-width="0.2" textLength="48.60" lengthAdjust="spacingAndGlyphs">Peak Envelope</text>
<text x="272.30" y="93.50" font-size="6.5" text-anchor="middle" fill="#262626" stroke="#262626" stroke-width="0.2" textLength="32.00" lengthAdjust="spacingAndGlyphs">Detection</text>
<text x="275.30" y="171.30" font-size="6.5" text-anchor="middle" fill="#262626" stroke="#262626" stroke-width="0.2" textLength="60.20" lengthAdjust="spacingAndGlyphs">Unwrapped Phase</text>
<text x="275.40" y="182.90" font-size="6.5" text-anchor="middle" fill="#262626" stroke="#262626" stroke-width="0.2" textLength="31.80" lengthAdjust="spacingAndGlyphs">Detection</text>
<g stroke="#000" stroke-width="1.3" fill="none" stroke-linejoin="miter"><polyline points="298.5,94 246.8,127.8 299,162"/></g>
<polygon fill="#000" points="303.00,91.00 297.31,97.83 297.67,94.49 294.46,93.48"/>
<polygon fill="#000" points="303.50,165.00 294.97,162.51 298.17,161.50 297.82,158.16"/>
<g filter="url(#bl)"><polyline clip-path="url(#c2)" fill="none" stroke="#0072BD" stroke-width="0.68" stroke-linejoin="round" points="330.50,88.00 330.60,86.34 330.71,77.83 330.81,61.72 330.92,52.75 331.02,39.12 331.13,27.54 331.23,24.89 331.33,22.17 331.44,18.23 331.54,22.97 331.65,31.33 331.75,41.29 331.86,54.94 331.96,68.40 332.06,77.15 332.17,87.59 332.27,93.55 332.38,92.62 332.48,91.75 332.58,85.46 332.69,79.63 332.79,68.58 332.90,57.82 333.00,46.50 333.11,34.85 333.21,29.45 333.31,23.46 333.42,23.46 333.52,23.46 333.63,36.33 333.73,41.36 333.84,53.93 333.94,65.03 334.04,78.13 334.15,84.92 334.25,88.54 334.36,92.36 334.46,90.90 334.57,86.76 334.67,76.26 334.77,68.35 334.88,61.14 334.98,47.24 335.09,39.68 335.19,34.43 335.30,24.96 335.40,22.96 335.50,25.89 335.61,34.55 335.71,43.39 335.82,50.72 335.92,64.29 336.03,75.71 336.13,85.32 336.23,91.81 336.34,93.56 336.44,93.32 336.55,89.30 336.65,83.55 336.75,70.06 336.86,60.17 336.96,44.68 337.07,37.92 337.17,27.09 337.28,21.35 337.38,22.12 337.48,19.67 337.59,26.14 337.69,39.57 337.80,49.50 337.90,63.38 338.01,81.60 338.11,87.32 338.21,95.91 338.32,99.85 338.42,100.52 338.53,96.09 338.63,87.73 338.74,74.06 338.84,62.68 338.94,49.96 339.05,34.84 339.15,28.67 339.26,21.78 339.36,21.91 339.47,18.58 339.57,24.48 339.67,33.80 339.78,45.90 339.88,59.74 339.99,72.17 340.09,84.11 340.20,92.37 340.30,96.65 340.40,94.63 340.51,93.18 340.61,87.68 340.72,79.30 340.82,68.36 340.92,52.67 341.03,43.79 341.13,35.56 341.24,30.10 341.34,28.77 341.45,27.86 341.55,30.65 341.65,40.51 341.76,49.97 341.86,60.91 341.97,71.27 342.07,84.19 342.18,89.32 342.28,94.65 342.38,92.96 342.49,93.52 342.59,85.34 342.70,75.23 342.80,68.46 342.91,58.18 343.01,46.39 343.11,37.99 343.22,33.57 343.32,28.43 343.43,28.43 343.53,33.71 343.64,40.87 343.74,52.07 343.84,60.61 343.95,74.71 344.05,84.68 344.16,88.45 344.26,97.63 344.37,95.65 344.47,92.64 344.57,89.01 344.68,79.41 344.78,65.64 344.89,57.41 344.99,46.32 345.09,37.50 345.20,27.44 345.30,22.96 345.41,22.96 345.51,28.93 345.62,36.03 345.72,45.34 345.82,55.47 345.93,68.36 346.03,78.69 346.14,87.56 346.24,94.65 346.35,96.44 346.45,94.50 346.55,89.87 346.66,80.56 346.76,67.64 346.87,58.48 346.97,48.12 347.08,41.33 347.18,29.99 347.28,29.94 347.39,28.35 347.49,27.40 347.60,34.36 347.70,45.38 347.81,59.45 347.91,68.78 348.01,80.42 348.12,87.22 348.22,90.60 348.33,97.13 348.43,97.63 348.54,93.50 348.64,82.98 348.74,72.20 348.85,61.65 348.95,46.97 349.06,38.24 349.16,25.52 349.26,21.07 349.37,21.07 349.47,24.89 349.58,29.76 349.68,40.71 349.79,52.99 349.89,65.49 349.99,79.27 350.10,89.72 350.20,92.87 350.31,98.13 350.41,96.99 350.52,91.48 350.62,89.26 350.72,77.93 350.83,65.23 350.93,53.71 351.04,45.00 351.14,34.41 351.25,30.83 351.35,31.86 351.45,33.37 351.56,35.58 351.66,44.36 351.77,58.75 351.87,63.71 351.98,75.64 352.08,83.37 352.18,93.19 352.29,96.44 352.39,96.44 352.50,87.52 352.60,85.33 352.71,72.34 352.81,65.12 352.91,51.98 353.02,44.58 353.12,33.51 353.23,25.29 353.33,27.25 353.43,24.95 353.54,31.53 353.64,42.66 353.75,52.50 353.85,64.31 353.96,75.25 354.06,86.37 354.16,94.58 354.27,97.93 354.37,98.13 354.48,96.56 354.58,86.91 354.69,74.87 354.79,67.11 354.89,51.57 355.00,40.86 355.10,31.63 355.21,21.60 355.31,21.29 355.42,20.27 355.52,28.20 355.62,34.53 355.73,46.53 355.83,59.62 355.94,69.24 356.04,81.33 356.15,88.17 356.25,94.23 356.35,95.24 356.46,92.53 356.56,86.11 356.67,75.61 356.77,68.43 356.88,55.62 356.98,48.05 357.08,34.78 357.19,31.70 357.29,30.11 357.40,27.65 357.50,29.80 357.60,41.98 357.71,50.85 357.81,61.14 357.92,72.87 358.02,80.04 358.13,89.99 358.23,94.63 358.33,93.54 358.44,93.78 358.54,86.18 358.65,80.69 358.75,71.32 358.86,61.93 358.96,45.04 359.06,40.42 359.17,33.19 359.27,30.58 359.38,30.52 359.48,34.36 359.59,37.52 359.69,51.72 359.79,62.77 359.90,72.08 360.00,82.09 360.11,85.79 360.21,90.46 360.32,93.55 360.42,93.55 360.52,87.44 360.63,76.65 360.73,74.94 360.84,58.58 360.94,51.56 361.05,39.09 361.15,36.63 361.25,31.80 361.36,33.99 361.46,36.42 361.57,38.61 361.67,48.56 361.77,61.17 361.88,72.75 361.98,84.53 362.09,89.83 362.19,94.47 362.30,96.44 362.40,94.92 362.50,91.37 362.61,80.85 362.71,69.96 362.82,55.61 362.92,42.83 363.03,36.23 363.13,29.66 363.23,24.05 363.34,24.57 363.44,28.44 363.55,34.58 363.65,46.74 363.76,55.93 363.86,69.99 363.96,81.27 364.07,91.90 364.17,99.58 364.28,101.12 364.38,100.11 364.49,95.25 364.59,84.92 364.69,73.94 364.80,63.72 364.90,48.46 365.01,39.83 365.11,29.92 365.22,24.30 365.32,26.61 365.42,25.73 365.53,32.34 365.63,42.55 365.74,54.57 365.84,66.66 365.94,79.29 366.05,87.62 366.15,94.84 366.26,96.72 366.36,97.03 366.47,90.42 366.57,81.98 366.67,71.28 366.78,59.18 366.88,44.66 366.99,37.31 367.09,24.54 367.20,19.54 367.30,18.58 367.40,20.74 367.51,29.25 367.61,38.23 367.72,48.35 367.82,61.28 367.93,73.69 368.03,87.00 368.13,90.47 368.24,92.83 368.34,92.62 368.45,89.79 368.55,85.55 368.66,71.01 368.76,61.64 368.86,54.47 368.97,38.69 369.07,33.84 369.18,28.29 369.28,25.53 369.39,24.35 369.49,33.05 369.59,40.56 369.70,48.52 369.80,60.30 369.91,74.50 370.01,84.26 370.11,93.02 370.22,94.65 370.32,93.26 370.43,89.22 370.53,82.19 370.64,70.37 370.74,61.85 370.84,48.50 370.95,36.02 371.05,27.45 371.16,20.87 371.26,20.87 371.37,23.50 371.47,28.17 371.57,39.77 371.68,52.27 371.78,60.55 371.89,73.73 371.99,83.48 372.10,94.83 372.20,96.44 372.30,96.44 372.41,93.79 372.51,89.04 372.62,75.50 372.72,61.57 372.83,50.45 372.93,41.08 373.03,30.95 373.14,23.55 373.24,27.72 373.35,24.46 373.45,28.28 373.56,36.01 373.66,44.21 373.76,56.31 373.87,68.69 373.97,78.22 374.08,84.46 374.18,90.56 374.28,90.36 374.39,85.47 374.49,77.16 374.60,72.11 374.70,61.41 374.81,50.01 374.91,37.70 375.01,31.83 375.12,23.76 375.22,25.56 375.33,25.37 375.43,29.99 375.54,35.66 375.64,44.73 375.74,59.98 375.85,69.37 375.95,76.34 376.06,85.20 376.16,88.87 376.27,86.81 376.37,85.26 376.47,79.86 376.58,73.96 376.68,62.09 376.79,54.83 376.89,43.37 377.00,39.56 377.10,34.31 377.20,30.43 377.31,32.64 377.41,33.88 377.52,40.92 377.62,51.20 377.73,58.46 377.83,68.29 377.93,74.05 378.04,83.10 378.14,86.43 378.25,84.17 378.35,80.02 378.45,75.40 378.56,71.63 378.66,62.57 378.77,50.87 378.87,45.09 378.98,39.27 379.08,32.12 379.18,29.83 379.29,32.24 379.39,37.88 379.50,44.59 379.60,50.02 379.71,63.09 379.81,72.48 379.91,81.27 380.02,87.88 380.12,94.09 380.23,93.66 380.33,93.36 380.44,85.71 380.54,77.10 380.64,61.26 380.75,50.69 380.85,39.88 380.96,28.93 381.06,21.44 381.17,17.28 381.27,21.16 381.37,25.15 381.48,32.75 381.58,39.08 381.69,55.20 381.79,70.56 381.90,81.17 382.00,88.24 382.10,98.35 382.21,99.62 382.31,94.71 382.42,89.37 382.52,79.13 382.62,69.18 382.73,51.72 382.83,39.61 382.94,31.05 383.04,23.19 383.15,24.33 383.25,20.27 383.35,25.50 383.46,31.89 383.56,41.51 383.67,54.91 383.77,69.13 383.88,76.05 383.98,86.57 384.08,91.18 384.19,92.26 384.29,90.77 384.40,88.80 384.50,73.92 384.61,65.30 384.71,52.50 384.81,40.06 384.92,34.34 385.02,30.92 385.13,25.78 385.23,26.52 385.34,29.03 385.44,34.98 385.54,48.28 385.65,54.93 385.75,69.51 385.86,76.46 385.96,85.41 386.07,91.06 386.17,92.26 386.27,91.47 386.38,86.63 386.48,80.94 386.59,68.42 386.69,54.68 386.79,44.40 386.90,36.95 387.00,31.73 387.11,30.90 387.21,29.23 387.32,32.82 387.42,38.71 387.52,47.12 387.63,55.70 387.73,66.22 387.84,74.37 387.94,83.29 388.05,86.61 388.15,83.40 388.25,86.04 388.36,81.36 388.46,72.17 388.57,62.14 388.67,54.85 388.78,42.83 388.88,31.77 388.98,26.30 389.09,22.96 389.19,22.66 389.30,27.77 389.40,33.13 389.51,43.53 389.61,50.69 389.71,68.21 389.82,76.23 389.92,84.39 390.03,87.76 390.13,89.94 390.24,86.92 390.34,87.34 390.44,75.16 390.55,67.10 390.65,56.83 390.76,43.89 390.86,37.20 390.96,32.33 391.07,25.35 391.17,27.09 391.28,28.65 391.38,32.95 391.49,41.63 391.59,49.33 391.69,63.02 391.80,75.15 391.90,81.62 392.01,87.19 392.11,87.58 392.22,85.48 392.32,83.10 392.42,78.59 392.53,64.89 392.63,56.68 392.74,46.27 392.84,38.36 392.95,31.11 393.05,28.68 393.15,28.14 393.26,30.32 393.36,35.91 393.47,43.60 393.57,56.12 393.68,63.23 393.78,72.25 393.88,78.64 393.99,85.88 394.09,82.87 394.20,84.62 394.30,83.25 394.41,78.08 394.51,67.72 394.61,58.80 394.72,51.48 394.82,42.55 394.93,38.27 395.03,33.31 395.13,34.82 395.24,36.00 395.34,39.16 395.45,43.32 395.55,58.22 395.66,65.96 395.76,74.82 395.86,78.57 395.97,86.48 396.07,86.48 396.18,85.41 396.28,83.00 396.39,76.22 396.49,66.71 396.59,60.12 396.70,49.44 396.80,39.19 396.91,31.82 397.01,28.79 397.12,31.19 397.22,31.90 397.32,36.12 397.43,45.79 397.53,57.90 397.64,70.85 397.74,78.83 397.85,89.93 397.95,97.06 398.05,97.53 398.16,93.54 398.26,90.66 398.37,80.53 398.47,72.73 398.58,58.13 398.68,49.03 398.78,37.67 398.89,24.80 398.99,23.76 399.10,24.86 399.20,27.18 399.30,33.00 399.41,40.72 399.51,54.93 399.62,68.87 399.72,77.15 399.83,85.68 399.93,91.71 400.03,92.16 400.14,92.91 400.24,87.45 400.35,83.44 400.45,70.18 400.56,57.16 400.66,48.87 400.76,40.33 400.87,33.26 400.97,28.43 401.08,30.28 401.18,31.50 401.29,36.27 401.39,44.05 401.49,56.10 401.60,65.13 401.70,75.99 401.81,83.38 401.91,89.41 402.02,91.66 402.12,90.66 402.22,84.88 402.33,81.38 402.43,71.19 402.54,59.64 402.64,52.96 402.75,41.93 402.85,37.52 402.95,30.82 403.06,30.82 403.16,30.82 403.27,38.87 403.37,44.47 403.47,54.38 403.58,63.65 403.68,69.71 403.79,82.18 403.89,82.81 404.00,86.98 404.10,83.51 404.20,82.11 404.31,77.63 404.41,68.08 404.52,58.52 404.62,51.10 404.73,42.55 404.83,38.49 404.93,37.97 405.04,33.31 405.14,34.43 405.25,40.40 405.35,47.65 405.46,54.35 405.56,66.02 405.66,74.89 405.77,80.93 405.87,83.22 405.98,87.58 406.08,84.39 406.19,83.63 406.29,77.62 406.39,64.44 406.50,57.03 406.60,49.38 406.71,38.89 406.81,29.83 406.92,26.74 407.02,27.67 407.12,28.94 407.23,34.48 407.33,45.70 407.44,54.29 407.54,65.98 407.64,77.25 407.75,85.77 407.85,90.66 407.96,93.31 408.06,93.45 408.17,88.96 408.27,79.11 408.37,71.66 408.48,60.28 408.58,49.58 408.69,41.72 408.79,31.76 408.90,33.40 409.00,31.02 409.10,34.02 409.21,35.01 409.31,42.41 409.42,57.58 409.52,64.71 409.63,70.14 409.73,76.89 409.83,81.79 409.94,85.29 410.04,83.62 410.15,79.88 410.25,75.61 410.36,66.35 410.46,64.30 410.56,50.97 410.67,46.89 410.77,37.80 410.88,36.80 410.98,37.44 411.09,37.23 411.19,44.09 411.29,50.53 411.40,59.40 411.50,64.64 411.61,71.28 411.71,76.60 411.81,83.04 411.92,82.72 412.02,83.85 412.13,80.89 412.23,74.44 412.34,66.81 412.44,61.86 412.54,54.22 412.65,47.45 412.75,41.97 412.86,40.84 412.96,38.59 413.07,41.44 413.17,44.14 413.27,52.58 413.38,57.64 413.48,65.17 413.59,73.79 413.69,75.22 413.80,82.26 413.90,81.39 414.00,81.95 414.11,81.15 414.21,74.44 414.32,64.99 414.42,56.82 414.53,48.06 414.63,40.92 414.73,37.80 414.84,31.51 414.94,34.65 415.05,32.50 415.15,39.97 415.26,47.69 415.36,55.95 415.46,64.66 415.57,76.79 415.67,84.79 415.78,88.58 415.88,88.77 415.98,88.77 416.09,80.59 416.19,78.65 416.30,66.85 416.40,60.92 416.51,48.34 416.61,41.07 416.71,34.24 416.82,29.83 416.92,29.83 417.03,32.16 417.13,37.48 417.24,46.80 417.34,52.60 417.44,63.15 417.55,69.63 417.65,78.16 417.76,79.57 417.86,84.69 417.97,84.15 418.07,78.13 418.17,74.13 418.28,66.97 418.38,57.20 418.49,50.54 418.59,40.17 418.70,30.82 418.80,30.82 418.90,33.06 419.01,35.19 419.11,39.56 419.22,44.29 419.32,56.25 419.43,64.98 419.53,70.45 419.63,77.32 419.74,84.15 419.84,85.29 419.95,85.29 420.05,81.64 420.15,78.34 420.26,65.17 420.36,59.18 420.47,48.77 420.57,38.91 420.68,34.71 420.78,35.92 420.88,33.31 420.99,33.90 421.09,42.33 421.20,49.58 421.30,56.09 421.41,67.18 421.51,69.32 421.61,82.72 421.72,84.09 421.82,84.09 421.93,83.29 422.03,78.66 422.14,72.28 422.24,65.37 422.34,54.34 422.45,51.95 422.55,40.74 422.66,36.62 422.76,32.12 422.87,31.92 422.97,36.61 423.07,41.46 423.18,46.21 423.28,55.61 423.39,66.37 423.49,69.60 423.60,75.74 423.70,85.88 423.80,85.33 423.91,79.73 424.01,78.13 424.12,71.73 424.22,63.22 424.32,53.67 424.43,43.16 424.53,35.20 424.64,26.51 424.74,25.23 424.85,25.29 424.95,30.20 425.05,34.79 425.16,45.51 425.26,54.83 425.37,63.53 425.47,74.82 425.58,82.64 425.68,88.12 425.78,90.45 425.89,89.07 425.99,84.47 426.10,74.91 426.20,68.83 426.31,54.12 426.41,46.55 426.51,39.40 426.62,32.66 426.72,29.75 426.83,28.28 426.93,33.05 427.04,35.52 427.14,47.00 427.24,58.90 427.35,65.47 427.45,76.39 427.56,79.62 427.66,81.96 427.77,84.10 427.87,85.29 427.97,80.72 428.08,69.47 428.18,64.01 428.29,55.79 428.39,45.38 428.49,35.57 428.60,32.45 428.70,31.92 428.81,31.92 428.91,34.45 429.02,42.44 429.12,50.93 429.22,57.69 429.33,68.47 429.43,74.98 429.54,81.11 429.64,81.01 429.75,86.48 429.85,84.93 429.95,80.55 430.06,72.77 430.16,63.48 430.27,57.53 430.37,49.72 430.48,44.08 430.58,37.68 430.68,33.31 430.79,33.80 430.89,38.86 431.00,43.20 431.10,49.78 431.21,57.23 431.31,67.65 431.41,74.60 431.52,83.40 431.62,84.69 431.73,81.68 431.83,84.69 431.94,78.06 432.04,69.55 432.14,61.56 432.25,52.67 432.35,42.08 432.46,34.21 432.56,28.90 432.66,29.63 432.77,27.22 432.87,32.85 432.98,39.77 433.08,48.15 433.19,58.44 433.29,69.07 433.39,81.56 433.50,86.64 433.60,90.79 433.71,91.87 433.81,88.71 433.92,85.40 434.02,76.58 434.12,64.10 434.23,56.83 434.33,43.27 434.44,35.72 434.54,29.27 434.65,29.04 434.75,28.35 434.85,30.86 434.96,36.09 435.06,44.84 435.17,56.79 435.27,66.95 435.38,76.96 435.48,81.47 435.58,86.60 435.69,85.74 435.79,81.22 435.90,79.28 436.00,74.54 436.11,64.54 436.21,56.36 436.31,47.18 436.42,35.41 436.52,32.50 436.63,33.65 436.73,30.82 436.83,33.70 436.94,43.35 437.04,52.49 437.15,61.35 437.25,69.60 437.36,77.21 437.46,82.45 437.56,85.91 437.67,86.39 437.77,83.37 437.88,79.13 437.98,75.40 438.09,63.72 438.19,53.40 438.29,45.84 438.40,36.25 438.50,33.77 438.61,32.93 438.71,31.22 438.82,35.17 438.92,42.31 439.02,49.01 439.13,57.54 439.23,67.48 439.34,80.11 439.44,82.43 439.55,84.69 439.65,84.69 439.75,81.38 439.86,74.37 439.96,70.28 440.07,63.13 440.17,48.72 440.28,45.31 440.38,40.33 440.48,33.46 440.59,32.42 440.69,35.25 440.80,37.10 440.90,46.55 441.00,56.22 441.11,63.87 441.21,72.18 441.32,82.85 441.42,87.00 441.53,90.87 441.63,85.42 441.73,88.39 441.84,78.04 441.94,71.84 442.05,61.80 442.15,49.82 442.26,39.99 442.36,31.74 442.46,28.65 442.57,28.84 442.67,30.61 442.78,33.71 442.88,41.18 442.99,49.03 443.09,60.90 443.19,69.43 443.30,76.86 443.40,85.27 443.51,88.77 443.61,88.77 443.72,87.43 443.82,75.82 443.92,72.19 444.03,59.17 444.13,51.01 444.24,40.50 444.34,35.18 444.45,33.13 444.55,32.22 444.65,33.75 444.76,38.55 444.86,47.19 444.97,55.20 445.07,61.71 445.17,76.84 445.28,80.88 445.38,88.38 445.49,88.88 445.59,87.08 445.70,85.15 445.80,77.47 445.90,73.74 446.01,59.72 446.11,53.74 446.22,43.36 446.32,37.88 446.43,39.22 446.53,35.09 446.63,35.49 446.74,37.94 446.84,47.32 446.95,55.83 447.05,67.82 447.16,71.03 447.26,77.33 447.36,85.38 447.47,87.58 447.57,87.58 447.68,81.43 447.78,72.11 447.89,68.03 447.99,58.43 448.09,51.23 448.20,46.49 448.30,36.54 448.41,37.99 448.51,35.67 448.62,37.22 448.72,41.22 448.82,49.28 448.93,57.83 449.03,68.80 449.14,78.04 449.24,82.34 449.34,88.27 449.45,88.77 449.55,88.77 449.66,84.19 449.76,79.93 449.87,70.46 449.97,61.59 450.07,49.04 450.18,40.58 450.28,31.69 450.39,34.85 450.49,33.19 450.60,33.29 450.70,41.23 450.80,49.53 450.91,55.23 451.01,68.71 451.12,79.17 451.22,86.67 451.33,88.33 451.43,90.00 451.53,90.56 451.64,85.85 451.74,75.57 451.85,66.17 451.95,58.28 452.06,46.15 452.16,37.81 452.26,35.99 452.37,30.14 452.47,29.23 452.58,34.01 452.68,42.85 452.79,47.50 452.89,54.85 452.99,62.75 453.10,78.22 453.20,76.20 453.31,86.48 453.41,84.71 453.51,82.41 453.62,78.29 453.72,72.97 453.83,67.00 453.93,54.75 454.04,48.60 454.14,44.64 454.24,32.22 454.35,32.22 454.45,32.22 454.56,37.89 454.66,39.39 454.77,46.88 454.87,55.68 454.97,67.35 455.08,77.40 455.18,81.64 455.29,85.88 455.39,85.88 455.50,83.67 455.60,81.12 455.70,73.04 455.81,65.04 455.91,52.94 456.02,46.20 456.12,42.08 456.23,35.40 456.33,36.90 456.43,36.84 456.54,37.93 456.64,47.48 456.75,52.95 456.85,62.93 456.96,68.33 457.06,72.64 457.16,82.39 457.27,83.68 457.37,84.69 457.48,84.41 457.58,79.91 457.68,68.41 457.79,58.98 457.89,54.31 458.00,48.95 458.10,40.17 458.21,37.94 458.31,35.70 458.41,36.33 458.52,40.26 458.62,45.88 458.73,55.92 458.83,64.24 458.94,75.12 459.04,80.15 459.14,87.40 459.25,88.02 459.35,88.17 459.46,84.58 459.56,78.00 459.67,73.29 459.77,62.72 459.87,53.23 459.98,41.19 460.08,32.26 460.19,29.23 460.29,29.87 460.40,29.23 460.50,38.57 460.60,40.47 460.71,53.61 460.81,67.44 460.92,67.11 461.02,77.29 461.13,87.99 461.23,88.78 461.33,89.20 461.44,85.16 461.54,81.81 461.65,71.97 461.75,60.32 461.85,51.07 461.96,40.51 462.06,35.68 462.17,30.43 462.27,31.77 462.38,32.01 462.48,40.89 462.58,46.92 462.69,50.99 462.79,64.52 462.90,70.74 463.00,79.32 463.11,86.36 463.21,86.98 463.31,86.98 463.42,83.48 463.52,75.06 463.63,67.23 463.73,60.48 463.84,52.08 463.94,41.90 464.04,36.46 464.15,31.92 464.25,31.92 464.36,32.76 464.46,39.28 464.57,46.53 464.67,56.12 464.77,64.95 464.88,73.33 464.98,78.96 465.09,83.58 465.19,83.30 465.30,84.32 465.40,80.03 465.50,75.54 465.61,62.21 465.71,55.36 465.82,44.22 465.92,38.35 466.02,31.35 466.13,31.38 466.23,30.43 466.34,30.43 466.44,41.24 466.55,44.46 466.65,52.39 466.75,63.90 466.86,71.72 466.96,77.59 467.07,85.58 467.17,85.12 467.28,85.86 467.38,80.73 467.48,73.25 467.59,63.20 467.69,52.71 467.80,42.50 467.90,37.74 468.01,25.75 468.11,25.75 468.21,25.75 468.32,30.78 468.42,37.17 468.53,45.23 468.63,56.07 468.74,70.75 468.84,75.95 468.94,79.53 469.05,91.06 469.15,89.16 469.26,88.14 469.36,83.68 469.47,72.94 469.57,68.08 469.67,55.25 469.78,42.99 469.88,37.87 469.99,32.51 470.09,28.93 470.19,30.58 470.30,30.57 470.40,41.56 470.51,46.53 470.61,59.86 470.72,65.58 470.82,75.34 470.92,85.98 471.03,85.21 471.13,85.98 471.24,84.38 471.34,75.66 471.45,73.55 471.55,65.00 471.65,51.45 471.76,45.65 471.86,36.16 471.97,33.88 472.07,34.30 472.18,33.80 472.28,35.07 472.38,41.59 472.49,50.94 472.59,59.21 472.70,67.72 472.80,75.75 472.91,76.35 473.01,82.85 473.11,83.29 473.22,81.48 473.32,74.46 473.43,68.07 473.53,61.92 473.64,55.08 473.74,46.57 473.84,43.99 473.95,39.59 474.05,35.90 474.16,38.13 474.26,40.22 474.36,44.28 474.47,52.34 474.57,61.08 474.68,64.40 474.78,73.37 474.89,79.76 474.99,79.93 475.09,80.25 475.20,79.79 475.30,72.97 475.41,66.66 475.51,62.35 475.62,51.19 475.72,44.39 475.82,39.21 475.93,38.16 476.03,34.93 476.14,36.22 476.24,40.36 476.35,49.13 476.45,53.58 476.55,65.31 476.66,71.25 476.76,74.89 476.87,83.14 476.97,83.89 477.08,80.93 477.18,79.78 477.28,73.11 477.39,63.74 477.49,52.83 477.60,49.66 477.70,38.87 477.81,33.01 477.91,29.63 478.01,28.77 478.12,31.62 478.22,35.42 478.33,46.00 478.43,53.93 478.53,63.63 478.64,75.24 478.74,81.34 478.85,83.60 478.95,87.96 479.06,88.22 479.16,82.30 479.26,76.26 479.37,64.48 479.47,52.92 479.58,45.90 479.68,35.98 479.79,27.10 479.89,26.77 479.99,25.55 480.10,31.08 480.20,36.78 480.31,44.43 480.41,48.95 480.52,63.33 480.62,72.33 480.72,79.33 480.83,82.93 480.93,82.67 481.04,81.86 481.14,74.25 481.25,71.36 481.35,61.47 481.45,55.44 481.56,47.04 481.66,44.23 481.77,37.21 481.87,34.95 481.98,35.87 482.08,42.75 482.18,43.00 482.29,52.91 482.39,61.53 482.50,69.73 482.60,77.27 482.70,81.92 482.81,86.78 482.91,86.78 483.02,83.67 483.12,78.69 483.23,72.16 483.33,63.64 483.43,54.80 483.54,44.68 483.64,35.27 483.75,34.58 483.85,30.72 483.96,30.72 484.06,36.53 484.16,40.44 484.27,52.37 484.37,61.44 484.48,69.05 484.58,74.75 484.69,80.00 484.79,82.70 484.89,82.19 485.00,82.70 485.10,73.40 485.21,69.66 485.31,59.89 485.42,50.83 485.52,44.32 485.62,38.45 485.73,33.81 485.83,30.75 485.94,31.51 486.04,36.46 486.15,46.72 486.25,55.46 486.35,65.48 486.46,72.36 486.56,84.87 486.67,84.52 486.77,89.67 486.87,89.67 486.98,84.61 487.08,76.86 487.19,69.59 487.29,58.65 487.40,50.64 487.50,39.99 487.60,33.29 487.71,31.80 487.81,30.72 487.92,32.82 488.02,38.02 488.13,47.13 488.23,54.65 488.33,61.81 488.44,74.20 488.54,77.66 488.65,82.97 488.75,85.05 488.86,85.58 488.96,81.31 489.06,74.30 489.17,69.71 489.27,60.23 489.38,56.98 489.48,44.62 489.59,42.03 489.69,37.69 489.79,41.32 489.90,38.93 490.00,45.01 490.11,49.11 490.21,59.26 490.32,65.88 490.42,67.22 490.52,78.10 490.63,81.00 490.73,81.00 490.84,81.00 490.94,73.93 491.04,67.52 491.15,65.28 491.25,59.96 491.36,47.74 491.46,41.99 491.57,38.35 491.67,37.69 491.77,39.79 491.88,41.18 491.98,48.09 492.09,54.33 492.19,56.92 492.30,66.97 492.40,67.86 492.50,76.74 492.61,80.41 492.71,78.87 492.82,75.21 492.92,73.57 493.03,70.87 493.13,61.02 493.23,51.88 493.34,48.45 493.44,43.31 493.55,36.50 493.65,36.50 493.76,39.53 493.86,41.83 493.96,48.38 494.07,53.90 494.17,62.46 494.28,68.62 494.38,76.45 494.49,85.82 494.59,85.03 494.69,84.21 494.80,82.09 494.90,75.38 495.01,70.52 495.11,62.25 495.21,49.57 495.32,44.76 495.42,40.01 495.53,30.43 495.63,31.76 495.74,32.81 495.84,39.65 495.94,46.83 496.05,55.52 496.15,63.73 496.26,71.66 496.36,84.40 496.47,84.37 496.57,88.57 496.67,88.57 496.78,83.13 496.88,78.40 496.99,73.05 497.09,57.80 497.20,53.67 497.30,43.54 497.40,37.40 497.51,33.31 497.61,34.25 497.72,33.69 497.82,41.49 497.93,44.65 498.03,55.92 498.13,63.39 498.24,66.93 498.34,76.11 498.45,80.71 498.55,78.48 498.66,80.89 498.76,79.48 498.86,70.93 498.97,67.22 499.07,55.06 499.18,47.16 499.28,43.68 499.38,38.83 499.49,34.72 499.59,35.03 499.70,39.60 499.80,41.98 499.91,53.86 500.01,59.10 500.11,67.43 500.22,74.83 500.32,79.81 500.43,85.29 500.53,84.19 500.64,83.90 500.74,80.45 500.84,75.31 500.95,67.11 501.05,55.86 501.16,50.25 501.26,41.61 501.37,35.06 501.47,34.71 501.57,34.71 501.68,39.10 501.78,45.93 501.89,49.10 501.99,58.28 502.10,64.64 502.20,73.64 502.30,76.77 502.41,80.45 502.51,81.14 502.62,79.38 502.72,75.08 502.83,69.02 502.93,61.53 503.03,52.31 503.14,47.79 503.24,37.77 503.35,37.25 503.45,35.60 503.55,37.05 503.66,41.36 503.76,43.50 503.87,55.68 503.97,66.06 504.08,73.40 504.18,79.87 504.28,80.58 504.39,86.82 504.49,85.30 504.60,85.79 504.70,77.72 504.81,69.63 504.91,58.96 505.01,54.81 505.12,44.54 505.22,38.92 505.33,37.57 505.43,34.79 505.54,37.12 505.64,45.38 505.74,46.61 505.85,54.67 505.95,64.89 506.06,74.51 506.16,75.98 506.27,82.76 506.37,83.37 506.47,81.90 506.58,82.22 506.68,74.47 506.79,69.57 506.89,61.66 507.00,54.21 507.10,47.48 507.20,40.52 507.31,39.60 507.41,39.86 507.52,42.15 507.62,45.11 507.72,53.05 507.83,58.95 507.93,64.96 508.04,72.19 508.14,76.42 508.25,80.51 508.35,76.84 508.45,76.81 508.56,74.92 508.66,70.48 508.77,59.77 508.87,56.06 508.98,49.96 509.08,43.42 509.18,39.28 509.29,37.69 509.39,38.25 509.50,37.69 509.60,47.38 509.71,50.84 509.81,61.12 509.91,63.16 510.02,73.51 510.12,77.96 510.23,79.07 510.33,79.01 510.44,81.39 510.54,75.74 510.64,71.58 510.75,61.55 510.85,54.40 510.96,47.76 511.06,42.57 511.17,38.14 511.27,37.28 511.37,36.05 511.48,38.00 511.58,50.30 511.69,54.53 511.79,63.36 511.89,69.78 512.00,79.41 512.10,83.06 512.21,85.78 512.31,84.07 512.42,81.97 512.52,76.48 512.62,67.44 512.73,59.29 512.83,52.22 512.94,39.71 513.04,33.53 513.15,30.17 513.25,28.73 513.35,28.73 513.46,37.49 513.56,43.96 513.67,48.24 513.77,57.56 513.88,70.12 513.98,78.12 514.08,82.10 514.19,83.20 514.29,83.20 514.40,79.08 514.50,76.03 514.61,68.88 514.71,57.17 514.81,52.36 514.92,44.45 515.02,38.06 515.13,35.90 515.23,36.73 515.34,38.34 515.44,44.54 515.54,46.23 515.65,55.71 515.75,66.64 515.86,71.72 515.96,76.12 516.06,80.21 516.17,78.95 516.27,78.38 516.38,77.98 516.48,71.20 516.59,66.02 516.69,55.29 516.79,47.85 516.90,36.71 517.00,36.89 517.11,38.69 517.21,36.50 517.32,37.99 517.42,45.61 517.52,51.62 517.63,58.30 517.73,64.61 517.84,72.32 517.94,78.85 518.05,78.82 518.15,80.91 518.25,79.68 518.36,76.92 518.46,69.61 518.57,59.59 518.67,56.02 518.78,46.00 518.88,38.68 518.98,36.79 519.09,34.61 519.19,37.75 519.30,36.85 519.40,42.82 519.51,51.43 519.61,62.73 519.71,68.89 519.82,71.61 519.92,74.93 520.03,79.91 520.13,78.02 520.23,78.73 520.34,73.04 520.44,66.08 520.55,57.75 520.65,53.65 520.76,42.21 520.86,36.11 520.96,37.35 521.07,36.94 521.17,35.73 521.28,42.05 521.38,51.72 521.49,53.76 521.59,63.26 521.69,72.26 521.80,74.01 521.90,82.04 522.01,84.19 522.11,83.02 522.22,81.41 522.32,74.86 522.42,65.04 522.53,58.25 522.63,49.68 522.74,38.50 522.84,34.57 522.95,32.82 523.05,32.82 523.15,34.77 523.26,37.89 523.36,47.30 523.47,51.64 523.57,64.74 523.68,70.73 523.78,78.54 523.88,80.26 523.99,79.74 524.09,76.59 524.20,76.78 524.30,70.04 524.40,63.99 524.51,57.50 524.61,51.49 524.72,43.46 524.82,42.75 524.93,37.69 525.03,38.30 525.13,42.38 525.24,47.80 525.34,54.67 525.45,55.63 525.55,68.37 525.66,69.10 525.76,75.41 525.86,79.51 525.97,79.51 526.07,75.26 526.18,69.64 526.28,68.43 526.39,60.14 526.49,50.30 526.59,44.82 526.70,36.32 526.80,37.52 526.91,35.30 527.01,38.91 527.12,36.45 527.22,47.24 527.32,56.87 527.43,60.54 527.53,67.75 527.64,70.08 527.74,78.53 527.85,79.99 527.95,78.49 528.05,73.94 528.16,72.21 528.26,63.95 528.37,57.87 528.47,52.32 528.57,45.38 528.68,40.68 528.78,39.64 528.89,37.40 528.99,42.22 529.10,42.13 529.20,49.02 529.30,58.63 529.41,67.87 529.51,74.33 529.62,79.09 529.72,82.57 529.83,84.86 529.93,82.21 530.03,80.86 530.14,72.86 530.24,68.00 530.35,54.85 530.45,47.37 530.56,41.05 530.66,32.87 530.76,32.12 530.87,37.80 530.97,35.69 531.08,44.01 531.18,46.83 531.29,52.67 531.39,66.69 531.49,73.24 531.60,79.74 531.70,82.14 531.81,82.33 531.91,79.14 532.02,78.82 532.12,67.69 532.22,64.59 532.33,54.31 532.43,45.14 532.54,39.77 532.64,38.65 532.74,36.60 532.85,37.19 532.95,39.93 533.06,43.28 533.16,54.74 533.27,59.18 533.37,66.38 533.47,72.91 533.58,77.77 533.68,78.26 533.79,80.03 533.89,76.77 534.00,72.54 534.10,63.89 534.20,63.32 534.31,50.07 534.41,46.18 534.52,40.99 534.62,39.08 534.73,39.92 534.83,37.20"/></g>
<polyline clip-path="url(#c2)" fill="none" stroke="#D95319" stroke-width="1.2" stroke-linejoin="round" points="330.50,25.70 331.01,23.87 331.52,20.87 332.04,17.87 332.55,17.15 333.06,16.75 333.57,16.41 334.08,16.49 334.60,16.56 335.11,16.64 335.62,16.71 336.13,16.79 336.65,17.02 337.16,17.28 337.67,17.53 338.18,17.79 338.69,18.05 339.21,18.34 339.72,18.68 340.23,19.03 340.74,19.38 341.25,19.72 341.77,20.07 342.28,20.41 342.79,20.76 343.30,21.03 343.81,21.24 344.33,21.45 344.84,21.66 345.35,21.87 345.86,22.09 346.38,22.30 346.89,22.51 347.40,22.49 347.91,22.31 348.42,22.13 348.94,21.94 349.45,21.76 349.96,21.56 350.47,21.21 350.98,20.87 351.50,20.52 352.01,20.17 352.52,19.83 353.03,19.48 353.54,19.35 354.06,19.46 354.57,19.57 355.08,20.38 355.59,21.43 356.11,22.48 356.62,23.53 357.13,24.80 357.64,26.12 358.15,27.44 358.67,28.75 359.18,29.77 359.69,30.67 360.20,31.57 360.71,31.59 361.23,30.38 361.74,29.16 362.25,27.94 362.76,26.73 363.27,25.37 363.79,23.96 364.30,22.55 364.81,21.14 365.32,20.52 365.84,20.07 366.35,19.61 366.86,19.16 367.37,18.70 367.88,18.68 368.40,19.01 368.91,19.34 369.42,19.67 369.93,20.00 370.44,20.35 370.96,20.94 371.47,21.53 371.98,22.11 372.49,22.70 373.00,23.29 373.52,23.24 374.03,23.05 374.54,22.85 375.05,22.66 375.57,22.29 376.08,21.85 376.59,21.42 377.10,20.98 377.61,20.54 378.13,20.18 378.64,19.91 379.15,19.64 379.66,19.37 380.17,19.10 380.69,18.82 381.20,18.55 381.71,18.67 382.22,18.88 382.73,19.08 383.25,19.29 383.76,19.50 384.27,19.82 384.78,20.23 385.30,20.65 385.81,21.06 386.32,21.48 386.83,21.89 387.34,22.31 387.86,22.72 388.37,23.06 388.88,23.25 389.39,23.44 389.90,23.63 390.42,23.82 390.93,24.00 391.44,24.01 391.95,24.03 392.46,24.04 392.98,24.05 393.49,24.06 394.00,24.08 394.51,24.09 395.03,24.10 395.54,24.10 396.05,24.10 396.56,24.10 397.07,24.10 397.59,24.10 398.10,24.10 398.61,24.10 399.12,24.11 399.63,24.31 400.15,24.51 400.66,24.71 401.17,24.91 401.68,25.11 402.19,25.31 402.71,25.51 403.22,25.71 403.73,26.03 404.24,26.34 404.76,26.66 405.27,26.98 405.78,27.29 406.29,27.61 406.80,27.93 407.32,28.24 407.83,28.56 408.34,28.88 408.85,29.15 409.36,29.32 409.88,29.49 410.39,29.66 410.90,29.83 411.41,30.00 411.92,30.17 412.44,30.35 412.95,30.52 413.46,30.69 413.97,30.86 414.49,30.73 415.00,30.51 415.51,30.28 416.02,30.06 416.53,29.83 417.05,29.61 417.56,29.38 418.07,29.16 418.58,28.70 419.09,28.16 419.61,27.63 420.12,27.09 420.63,26.55 421.14,26.01 421.65,25.48 422.17,24.94 422.68,24.70 423.19,24.56 423.70,24.42 424.22,24.29 424.73,24.15 425.24,24.01 425.75,23.87 426.26,23.74 426.78,23.80 427.29,23.94 427.80,24.08 428.31,24.21 428.82,24.35 429.34,24.49 429.85,24.63 430.36,24.76 430.87,24.93 431.38,25.11 431.90,25.28 432.41,25.46 432.92,25.64 433.43,25.81 433.95,25.99 434.46,26.17 434.97,26.34 435.48,26.52 435.99,26.70 436.51,26.84 437.02,26.98 437.53,27.12 438.04,27.26 438.55,27.40 439.07,27.54 439.58,27.68 440.09,27.82 440.60,27.96 441.11,28.09 441.63,28.22 442.14,28.30 442.65,28.39 443.16,28.47 443.68,28.56 444.19,28.64 444.70,28.72 445.21,28.81 445.72,28.89 446.24,28.97 446.75,29.06 447.26,29.15 447.77,29.24 448.28,29.34 448.80,29.43 449.31,29.53 449.82,29.62 450.33,29.72 450.84,29.81 451.36,29.91 451.87,30.00 452.38,30.10 452.89,30.18 453.41,30.27 453.92,30.36 454.43,30.45 454.94,30.53 455.45,30.62 455.97,30.71 456.48,30.80 456.99,30.44 457.50,30.07 458.01,29.69 458.53,29.32 459.04,28.94 459.55,28.57 460.06,28.19 460.57,27.82 461.09,27.54 461.60,27.27 462.11,27.00 462.62,26.69 463.14,26.35 463.65,26.02 464.16,25.68 464.67,25.34 465.18,25.01 465.70,24.95 466.21,25.35 466.72,25.74 467.23,26.14 467.74,26.54 468.26,26.93 468.77,27.54 469.28,28.59 469.79,29.64 470.30,30.68 470.82,31.73 471.33,32.69 471.84,33.63 472.35,34.56 472.87,35.50 473.38,36.13 473.89,34.97 474.40,33.81 474.91,32.65 475.43,31.49 475.94,30.44 476.45,29.44 476.96,28.43 477.47,27.43 477.99,26.43 478.50,26.10 479.01,25.79 479.52,25.49 480.03,25.23 480.55,25.61 481.06,25.98 481.57,26.36 482.08,26.74 482.60,27.12 483.11,27.71 483.62,28.36 484.13,29.00 484.64,29.65 485.16,30.29 485.67,30.93 486.18,31.30 486.69,31.57 487.20,31.83 487.72,32.10 488.23,32.28 488.74,32.22 489.25,32.16 489.76,32.09 490.28,32.03 490.79,31.96 491.30,31.90 491.81,31.77 492.33,31.64 492.84,31.50 493.35,31.37 493.86,31.24 494.37,31.11 494.89,31.30 495.40,31.51 495.91,31.72 496.42,31.93 496.93,32.14 497.45,32.35 497.96,32.56 498.47,32.78 498.98,33.02 499.49,33.25 500.01,33.49 500.52,33.72 501.03,33.96 501.54,34.20 502.06,34.43 502.57,34.59 503.08,34.73 503.59,34.86 504.10,34.99 504.62,35.12 505.13,35.26 505.64,35.01 506.15,34.59 506.66,34.16 507.18,33.73 507.69,33.30 508.20,32.87 508.71,32.47 509.22,32.08 509.74,31.70 510.25,31.31 510.76,30.93 511.27,30.55 511.79,30.21 512.30,29.97 512.81,29.72 513.32,29.48 513.83,29.23 514.35,29.36 514.86,29.54 515.37,29.72 515.88,29.90 516.39,30.09 516.91,30.27 517.42,30.60 517.93,30.97 518.44,31.34 518.95,31.70 519.47,32.07 519.98,32.44 520.49,32.81 521.00,33.14 521.52,33.35 522.03,33.56 522.54,33.76 523.05,33.97 523.56,34.18 524.08,34.38 524.59,34.59 525.10,34.80 525.61,35.00 526.12,34.87 526.64,34.74 527.15,34.61 527.66,34.48 528.17,34.36 528.68,34.23 529.20,33.67 529.71,32.97 530.22,32.28 530.73,31.59 531.25,30.80 531.76,29.76 532.27,28.71 532.78,27.66 533.29,26.62 533.81,25.82 534.32,25.08 534.83,24.34"/>
<g fill="none" stroke-width="1">
<line x1="330.5" y1="13.5" x2="539.0" y2="13.5" stroke="#cccccc"/>
<line x1="330.5" y1="105.0" x2="539.0" y2="105.0" stroke="#cccccc"/>
<line x1="330.5" y1="13.5" x2="330.5" y2="105.0" stroke="#cccccc"/>
<line x1="539.0" y1="13.5" x2="539.0" y2="105.0" stroke="#cccccc"/>
<line x1="351.35" y1="13.5" x2="351.35" y2="15.5" stroke="#cccccc"/>
<line x1="351.35" y1="105.0" x2="351.35" y2="103.0" stroke="#cccccc"/>
<line x1="372.20" y1="13.5" x2="372.20" y2="15.5" stroke="#cccccc"/>
<line x1="372.20" y1="105.0" x2="372.20" y2="103.0" stroke="#cccccc"/>
<line x1="393.05" y1="13.5" x2="393.05" y2="15.5" stroke="#cccccc"/>
<line x1="393.05" y1="105.0" x2="393.05" y2="103.0" stroke="#cccccc"/>
<line x1="413.90" y1="13.5" x2="413.90" y2="15.5" stroke="#cccccc"/>
<line x1="413.90" y1="105.0" x2="413.90" y2="103.0" stroke="#cccccc"/>
<line x1="434.75" y1="13.5" x2="434.75" y2="15.5" stroke="#cccccc"/>
<line x1="434.75" y1="105.0" x2="434.75" y2="103.0" stroke="#cccccc"/>
<line x1="455.60" y1="13.5" x2="455.60" y2="15.5" stroke="#cccccc"/>
<line x1="455.60" y1="105.0" x2="455.60" y2="103.0" stroke="#cccccc"/>
<line x1="476.45" y1="13.5" x2="476.45" y2="15.5" stroke="#cccccc"/>
<line x1="476.45" y1="105.0" x2="476.45" y2="103.0" stroke="#cccccc"/>
<line x1="497.30" y1="13.5" x2="497.30" y2="15.5" stroke="#cccccc"/>
<line x1="497.30" y1="105.0" x2="497.30" y2="103.0" stroke="#cccccc"/>
<line x1="518.15" y1="13.5" x2="518.15" y2="15.5" stroke="#cccccc"/>
<line x1="518.15" y1="105.0" x2="518.15" y2="103.0" stroke="#cccccc"/>
<line x1="330.5" y1="36.38" x2="332.5" y2="36.38" stroke="#cccccc"/>
<line x1="539.0" y1="36.38" x2="537.0" y2="36.38" stroke="#cccccc"/>
<line x1="330.5" y1="59.25" x2="332.5" y2="59.25" stroke="#cccccc"/>
<line x1="539.0" y1="59.25" x2="537.0" y2="59.25" stroke="#cccccc"/>
<line x1="330.5" y1="82.12" x2="332.5" y2="82.12" stroke="#cccccc"/>
<line x1="539.0" y1="82.12" x2="537.0" y2="82.12" stroke="#cccccc"/>
</g>
<text x="330.20" y="15.95" font-size="6.9" text-anchor="end" fill="#262626" stroke="#262626" stroke-width="0.2">100</text>
<text x="330.20" y="38.83" font-size="6.9" text-anchor="end" fill="#262626" stroke="#262626" stroke-width="0.2">50</text>
<text x="330.20" y="61.70" font-size="6.9" text-anchor="end" fill="#262626" stroke="#262626" stroke-width="0.2">0</text>
<text x="330.20" y="84.58" font-size="6.9" text-anchor="end" fill="#262626" stroke="#262626" stroke-width="0.2">−50</text>
<text x="330.20" y="107.45" font-size="6.9" text-anchor="end" fill="#262626" stroke="#262626" stroke-width="0.2">−100</text>
<text x="331.20" y="114.90" font-size="6.95" text-anchor="middle" fill="#262626" stroke="#262626" stroke-width="0.2">710</text>
<text x="352.05" y="114.90" font-size="6.95" text-anchor="middle" fill="#262626" stroke="#262626" stroke-width="0.2">720</text>
<text x="372.90" y="114.90" font-size="6.95" text-anchor="middle" fill="#262626" stroke="#262626" stroke-width="0.2">730</text>
<text x="393.75" y="114.90" font-size="6.95" text-anchor="middle" fill="#262626" stroke="#262626" stroke-width="0.2">740</text>
<text x="414.60" y="114.90" font-size="6.95" text-anchor="middle" fill="#262626" stroke="#262626" stroke-width="0.2">750</text>
<text x="435.45" y="114.90" font-size="6.95" text-anchor="middle" fill="#262626" stroke="#262626" stroke-width="0.2">760</text>
<text x="456.30" y="114.90" font-size="6.95" text-anchor="middle" fill="#262626" stroke="#262626" stroke-width="0.2">770</text>
<text x="477.15" y="114.90" font-size="6.95" text-anchor="middle" fill="#262626" stroke="#262626" stroke-width="0.2">780</text>
<text x="498.00" y="114.90" font-size="6.95" text-anchor="middle" fill="#262626" stroke="#262626" stroke-width="0.2">790</text>
<text x="518.85" y="114.90" font-size="6.95" text-anchor="middle" fill="#262626" stroke="#262626" stroke-width="0.2">800</text>
<text x="539.70" y="114.90" font-size="6.95" text-anchor="middle" fill="#262626" stroke="#262626" stroke-width="0.2">810</text>
<text x="436.80" y="124.70" font-size="7.3" text-anchor="middle" fill="#262626" stroke="#262626" stroke-width="0.2" textLength="61.20" lengthAdjust="spacingAndGlyphs">Frequency (GHz)</text>
<text x="311.60" y="55.85" font-size="7.4" text-anchor="middle" fill="#262626" stroke="#262626" stroke-width="0.2" textLength="66.40" lengthAdjust="spacingAndGlyphs" transform="rotate(-90 311.60 55.85)">Photocurrent (nA)</text>
<text x="443.05" y="9.90" font-size="7.4" text-anchor="middle" fill="#111" stroke="#111" stroke-width="0.2" font-weight="bold" textLength="106.00" lengthAdjust="spacingAndGlyphs">Estimated Peak Envelope</text>
<rect x="483.2" y="84.6" width="53.6" height="16.4" fill="#fff" stroke="#d0d0d0" stroke-width="0.8"/>
<line x1="484.3" y1="89.1" x2="495.3" y2="89.1" stroke="#0072BD" stroke-width="1"/>
<line x1="484.3" y1="96.9" x2="495.3" y2="96.9" stroke="#D95319" stroke-width="1.2"/>
<text x="496.50" y="91.80" font-size="6.2" text-anchor="start" fill="#262626" stroke="#262626" stroke-width="0.1" textLength="38.20" lengthAdjust="spacingAndGlyphs">Phase Fringes</text>
<text x="496.50" y="99.40" font-size="6.2" text-anchor="start" fill="#262626" stroke="#262626" stroke-width="0.1" textLength="25.40" lengthAdjust="spacingAndGlyphs">Envelope</text>
<g filter="url(#bl)"><polyline clip-path="url(#c3)" fill="none" stroke="#0072BD" stroke-width="0.64" stroke-linejoin="round" points="329.20,213.06 329.30,211.40 329.40,202.92 329.49,186.86 329.59,177.93 329.69,164.34 329.79,152.79 329.88,150.16 329.98,147.44 330.08,143.52 330.18,148.24 330.27,156.57 330.37,166.50 330.47,180.10 330.57,193.52 330.66,202.24 330.76,212.65 330.86,218.59 330.96,217.66 331.05,216.80 331.15,210.52 331.25,204.71 331.35,193.70 331.44,182.97 331.54,171.69 331.64,160.08 331.74,154.70 331.83,148.72 331.93,148.72 332.03,148.72 332.13,161.56 332.22,166.57 332.32,179.10 332.42,190.16 332.52,203.22 332.61,209.99 332.71,213.59 332.81,217.40 332.91,215.95 333.00,211.82 333.10,201.35 333.20,193.47 333.30,186.28 333.39,172.43 333.49,164.89 333.59,159.66 333.69,150.22 333.78,148.23 333.88,151.15 333.98,159.78 334.08,168.59 334.18,175.90 334.27,189.43 334.37,200.80 334.47,210.39 334.57,216.85 334.66,218.60 334.76,218.35 334.86,214.36 334.96,208.62 335.05,195.18 335.15,185.32 335.25,169.88 335.35,163.14 335.44,152.34 335.54,146.63 335.64,147.39 335.74,144.95 335.83,151.40 335.93,164.78 336.03,174.68 336.13,188.52 336.22,206.68 336.32,212.38 336.42,220.94 336.52,224.86 336.61,225.53 336.71,221.12 336.81,212.78 336.91,199.16 337.00,187.82 337.10,175.15 337.20,160.07 337.30,153.92 337.39,147.06 337.49,147.19 337.59,143.86 337.69,149.74 337.78,159.03 337.88,171.10 337.98,184.89 338.08,197.28 338.17,209.17 338.27,217.42 338.37,221.67 338.47,219.66 338.56,218.22 338.66,212.74 338.76,204.39 338.86,193.48 338.95,177.85 339.05,168.99 339.15,160.78 339.25,155.35 339.35,154.02 339.44,153.11 339.54,155.90 339.64,165.72 339.74,175.15 339.83,186.05 339.93,196.38 340.03,209.26 340.13,214.37 340.22,219.68 340.32,217.99 340.42,218.56 340.52,210.40 340.61,200.33 340.71,193.58 340.81,183.33 340.91,171.59 341.00,163.21 341.10,158.80 341.20,153.69 341.30,153.69 341.39,158.94 341.49,166.08 341.59,177.24 341.69,185.76 341.78,199.81 341.88,209.75 341.98,213.51 342.08,222.65 342.17,220.68 342.27,217.68 342.37,214.06 342.47,204.50 342.56,190.77 342.66,182.57 342.76,171.51 342.86,162.72 342.95,152.69 343.05,148.23 343.15,148.23 343.25,154.18 343.34,161.25 343.44,170.54 343.54,180.63 343.64,193.48 343.73,203.77 343.83,212.62 343.93,219.68 344.03,221.47 344.13,219.53 344.22,214.92 344.32,205.64 344.42,192.76 344.52,183.64 344.61,173.31 344.71,166.54 344.81,155.23 344.91,155.19 345.00,153.60 345.10,152.66 345.20,159.59 345.30,170.57 345.39,184.60 345.49,193.90 345.59,205.50 345.69,212.28 345.78,215.64 345.88,222.16 345.98,222.66 346.08,218.54 346.17,208.05 346.27,197.31 346.37,186.79 346.47,172.16 346.56,163.45 346.66,150.78 346.76,146.34 346.86,146.34 346.95,150.15 347.05,155.01 347.15,165.92 347.25,178.16 347.34,190.62 347.44,204.36 347.54,214.77 347.64,217.91 347.73,223.15 347.83,222.02 347.93,216.52 348.03,214.31 348.12,203.02 348.22,190.36 348.32,178.88 348.42,170.20 348.51,159.64 348.61,156.08 348.71,157.10 348.81,158.61 348.91,160.80 349.00,169.56 349.10,183.91 349.20,188.85 349.30,200.74 349.39,208.44 349.49,218.23 349.59,221.47 349.69,221.47 349.78,212.57 349.88,210.39 349.98,197.45 350.08,190.25 350.17,177.15 350.27,169.78 350.37,158.75 350.47,150.55 350.56,152.50 350.66,150.21 350.76,156.77 350.86,167.87 350.95,177.67 351.05,189.45 351.15,200.35 351.25,211.43 351.34,219.62 351.44,222.95 351.54,223.15 351.64,221.58 351.73,211.97 351.83,199.97 351.93,192.23 352.03,176.75 352.12,166.07 352.22,156.87 352.32,146.88 352.42,146.56 352.51,145.55 352.61,153.45 352.71,159.76 352.81,171.73 352.90,184.77 353.00,194.36 353.10,206.40 353.20,213.23 353.29,219.26 353.39,220.27 353.49,217.57 353.59,211.18 353.69,200.71 353.78,193.55 353.88,180.78 353.98,173.24 354.08,160.01 354.17,156.94 354.27,155.36 354.37,152.90 354.47,155.05 354.56,167.19 354.66,176.02 354.76,186.29 354.86,197.97 354.95,205.12 355.05,215.04 355.15,219.66 355.25,218.58 355.34,218.81 355.44,211.24 355.54,205.77 355.64,196.43 355.73,187.07 355.83,170.24 355.93,165.63 356.03,158.42 356.12,155.82 356.22,155.77 356.32,159.59 356.42,162.75 356.51,176.90 356.61,187.91 356.71,197.19 356.81,207.16 356.90,210.86 357.00,215.51 357.10,218.59 357.20,218.59 357.29,212.50 357.39,201.74 357.49,200.04 357.59,183.73 357.68,176.74 357.78,164.30 357.88,161.86 357.98,157.04 358.07,159.22 358.17,161.65 358.27,163.83 358.37,173.75 358.46,186.32 358.56,197.85 358.66,209.60 358.76,214.88 358.86,219.51 358.95,221.47 359.05,219.95 359.15,216.42 359.25,205.92 359.34,195.07 359.44,180.77 359.54,168.03 359.64,161.45 359.73,154.91 359.83,149.31 359.93,149.83 360.03,153.69 360.12,159.81 360.22,171.93 360.32,181.09 360.42,195.10 360.51,206.35 360.61,216.95 360.71,224.60 360.81,226.13 360.90,225.13 361.00,220.28 361.10,209.99 361.20,199.04 361.29,188.85 361.39,173.65 361.49,165.05 361.59,155.17 361.68,149.57 361.78,151.87 361.88,150.99 361.98,157.58 362.07,167.76 362.17,179.74 362.27,191.79 362.37,204.37 362.46,212.68 362.56,219.88 362.66,221.75 362.76,222.06 362.85,215.47 362.95,207.06 363.05,196.39 363.15,184.33 363.24,169.85 363.34,162.53 363.44,149.81 363.54,144.82 363.64,143.86 363.73,146.02 363.83,154.50 363.93,163.45 364.03,173.53 364.12,186.42 364.22,198.79 364.32,212.06 364.42,215.52 364.51,217.87 364.61,217.66 364.71,214.84 364.81,210.62 364.90,196.12 365.00,186.78 365.10,179.64 365.20,163.90 365.29,159.07 365.39,153.54 365.49,150.79 365.59,149.62 365.68,158.29 365.78,165.77 365.88,173.70 365.98,185.44 366.07,199.60 366.17,209.33 366.27,218.06 366.37,219.68 366.46,218.30 366.56,214.27 366.66,207.26 366.76,195.48 366.85,186.99 366.95,173.68 367.05,161.25 367.15,152.70 367.24,146.14 367.34,146.14 367.44,148.76 367.54,153.42 367.63,164.99 367.73,177.44 367.83,185.69 367.93,198.83 368.02,208.55 368.12,219.87 368.22,221.47 368.32,221.47 368.42,218.83 368.51,214.09 368.61,200.60 368.71,186.72 368.81,175.63 368.90,166.29 369.00,156.19 369.10,148.82 369.20,152.98 369.29,149.73 369.39,153.54 369.49,161.24 369.59,169.41 369.68,181.47 369.78,193.80 369.88,203.30 369.98,209.53 370.07,215.61 370.17,215.41 370.27,210.53 370.37,202.25 370.46,197.22 370.56,186.55 370.66,175.19 370.76,162.92 370.85,157.07 370.95,149.02 371.05,150.82 371.15,150.63 371.24,155.24 371.34,160.89 371.44,169.93 371.54,185.13 371.63,194.49 371.73,201.43 371.83,210.26 371.93,213.92 372.02,211.87 372.12,210.33 372.22,204.94 372.32,199.06 372.41,187.23 372.51,180.00 372.61,168.57 372.71,164.77 372.80,159.54 372.90,155.67 373.00,157.87 373.10,159.12 373.20,166.13 373.29,176.38 373.39,183.61 373.49,193.41 373.59,199.15 373.68,208.17 373.78,211.49 373.88,209.24 373.98,205.10 374.07,200.50 374.17,196.74 374.27,187.71 374.37,176.05 374.46,170.29 374.56,164.49 374.66,157.35 374.76,155.08 374.85,157.48 374.95,163.10 375.05,169.79 375.15,175.20 375.24,188.22 375.34,197.58 375.44,206.35 375.54,212.93 375.63,219.13 375.73,218.70 375.83,218.40 375.93,210.77 376.02,202.19 376.12,186.40 376.22,175.87 376.32,165.09 376.41,154.18 376.51,146.71 376.61,142.57 376.71,146.43 376.80,150.41 376.90,157.99 377.00,164.29 377.10,180.37 377.19,195.67 377.29,206.25 377.39,213.29 377.49,223.37 377.58,224.64 377.68,219.74 377.78,214.42 377.88,204.22 377.97,194.29 378.07,176.89 378.17,164.82 378.27,156.29 378.37,148.46 378.46,149.59 378.56,145.55 378.66,150.76 378.76,157.13 378.85,166.72 378.95,180.08 379.05,194.25 379.15,201.15 379.24,211.63 379.34,216.23 379.44,217.30 379.54,215.82 379.63,213.86 379.73,199.02 379.83,190.43 379.93,177.67 380.02,165.28 380.12,159.57 380.22,156.17 380.32,151.04 380.41,151.77 380.51,154.27 380.61,160.21 380.71,173.47 380.80,180.09 380.90,194.63 381.00,201.55 381.10,210.48 381.19,216.10 381.29,217.30 381.39,216.52 381.49,211.69 381.58,206.02 381.68,193.54 381.78,179.84 381.88,169.60 381.97,162.18 382.07,156.97 382.17,156.14 382.27,154.48 382.36,158.06 382.46,163.93 382.56,172.31 382.66,180.86 382.75,191.35 382.85,199.47 382.95,208.36 383.05,211.67 383.15,208.47 383.24,211.10 383.34,206.44 383.44,197.28 383.54,187.28 383.63,180.02 383.73,168.03 383.83,157.01 383.93,151.55 384.02,148.23 384.12,147.93 384.22,153.02 384.32,158.37 384.41,168.73 384.51,175.87 384.61,193.33 384.71,201.33 384.80,209.46 384.90,212.81 385.00,214.99 385.10,211.98 385.19,212.40 385.29,200.26 385.39,192.22 385.49,181.99 385.58,169.09 385.68,162.42 385.78,157.56 385.88,150.61 385.97,152.35 386.07,153.90 386.17,158.19 386.27,166.84 386.36,174.51 386.46,188.16 386.56,200.25 386.66,206.70 386.75,212.24 386.85,212.63 386.95,210.54 387.05,208.18 387.14,203.68 387.24,190.03 387.34,181.83 387.44,171.46 387.53,163.58 387.63,156.36 387.73,153.93 387.83,153.39 387.93,155.56 388.02,161.13 388.12,168.80 388.22,181.28 388.32,188.37 388.41,197.36 388.51,203.73 388.61,210.95 388.71,207.94 388.80,209.69 388.90,208.33 389.00,203.16 389.10,192.84 389.19,183.95 389.29,176.66 389.39,167.76 389.49,163.49 389.58,158.55 389.68,160.05 389.78,161.23 389.88,164.38 389.97,168.52 390.07,183.38 390.17,191.09 390.27,199.92 390.36,203.66 390.46,211.54 390.56,211.54 390.66,210.47 390.75,208.07 390.85,201.31 390.95,191.84 391.05,185.27 391.14,174.62 391.24,164.41 391.34,157.06 391.44,154.04 391.53,156.43 391.63,157.14 391.73,161.34 391.83,170.99 391.92,183.05 392.02,195.96 392.12,203.92 392.22,214.98 392.31,222.08 392.41,222.56 392.51,218.57 392.61,215.71 392.71,205.61 392.80,197.84 392.90,183.28 393.00,174.21 393.10,162.89 393.19,150.06 393.29,149.02 393.39,150.12 393.49,152.44 393.58,158.24 393.68,165.93 393.78,180.09 393.88,193.99 393.97,202.24 394.07,210.74 394.17,216.75 394.27,217.20 394.36,217.95 394.46,212.51 394.56,208.52 394.66,195.29 394.75,182.32 394.85,174.06 394.95,165.54 395.05,158.50 395.14,153.69 395.24,155.53 395.34,156.74 395.44,161.49 395.53,169.25 395.63,181.26 395.73,190.26 395.83,201.09 395.92,208.45 396.02,214.46 396.12,216.70 396.22,215.71 396.31,209.94 396.41,206.46 396.51,196.30 396.61,184.79 396.70,178.13 396.80,167.13 396.90,162.74 397.00,156.07 397.09,156.07 397.19,156.07 397.29,164.09 397.39,169.67 397.48,179.54 397.58,188.79 397.68,194.83 397.78,207.26 397.88,207.88 397.97,212.04 398.07,208.58 398.17,207.18 398.27,202.72 398.36,193.20 398.46,183.67 398.56,176.28 398.66,167.76 398.75,163.70 398.85,163.19 398.95,158.55 399.05,159.66 399.14,165.61 399.24,172.84 399.34,179.52 399.44,191.14 399.53,199.99 399.63,206.01 399.73,208.29 399.83,212.63 399.92,209.46 400.02,208.70 400.12,202.71 400.22,189.58 400.31,182.19 400.41,174.56 400.51,164.11 400.61,155.07 400.70,152.00 400.80,152.92 400.90,154.19 401.00,159.71 401.09,170.89 401.19,179.46 401.29,191.11 401.39,202.34 401.48,210.83 401.58,215.70 401.68,218.35 401.78,218.49 401.87,214.02 401.97,204.19 402.07,196.77 402.17,185.42 402.26,174.76 402.36,166.92 402.46,157.00 402.56,158.64 402.66,156.27 402.75,159.25 402.85,160.24 402.95,167.62 403.05,182.74 403.14,189.85 403.24,195.25 403.34,201.99 403.44,206.86 403.53,210.35 403.63,208.69 403.73,204.96 403.83,200.70 403.92,191.48 404.02,189.43 404.12,176.15 404.22,172.08 404.31,163.02 404.41,162.02 404.51,162.67 404.61,162.45 404.70,169.29 404.80,175.71 404.90,184.55 405.00,189.78 405.09,196.39 405.19,201.70 405.29,208.11 405.39,207.79 405.48,208.92 405.58,205.97 405.68,199.54 405.78,191.94 405.87,187.01 405.97,179.38 406.07,172.64 406.17,167.17 406.26,166.05 406.36,163.81 406.46,166.65 406.56,169.34 406.65,177.75 406.75,182.80 406.85,190.30 406.95,198.89 407.04,200.32 407.14,207.33 407.24,206.47 407.34,207.03 407.44,206.23 407.53,199.54 407.63,190.12 407.73,181.98 407.83,173.25 407.92,166.13 408.02,163.02 408.12,156.76 408.22,159.88 408.31,157.74 408.41,165.19 408.51,172.88 408.61,181.11 408.70,189.79 408.80,201.88 408.90,209.86 409.00,213.63 409.09,213.82 409.19,213.82 409.29,205.67 409.39,203.73 409.48,191.97 409.58,186.07 409.68,173.52 409.78,166.28 409.87,159.48 409.97,155.08 410.07,155.08 410.17,157.39 410.26,162.70 410.36,171.99 410.46,177.77 410.56,188.29 410.65,194.74 410.75,203.25 410.85,204.65 410.95,209.76 411.04,209.22 411.14,203.21 411.24,199.23 411.34,192.10 411.43,182.36 411.53,175.72 411.63,165.38 411.73,156.07 411.82,156.07 411.92,158.30 412.02,160.42 412.12,164.77 412.22,169.49 412.31,181.41 412.41,190.11 412.51,195.56 412.61,202.41 412.70,209.22 412.80,210.35 412.90,210.35 413.00,206.72 413.09,203.43 413.19,190.30 413.29,184.33 413.39,173.96 413.48,164.13 413.58,159.94 413.68,161.15 413.78,158.55 413.87,159.13 413.97,167.53 414.07,174.76 414.17,181.25 414.26,192.30 414.36,194.43 414.46,207.79 414.56,209.16 414.65,209.16 414.75,208.37 414.85,203.75 414.95,197.39 415.04,190.50 415.14,179.51 415.24,177.13 415.34,165.95 415.43,161.85 415.53,157.36 415.63,157.16 415.73,161.84 415.82,166.67 415.92,171.40 416.02,180.77 416.12,191.50 416.21,194.71 416.31,200.83 416.41,210.95 416.51,210.39 416.60,204.81 416.70,203.22 416.80,196.84 416.90,188.36 416.99,178.84 417.09,168.37 417.19,160.43 417.29,151.77 417.39,150.49 417.48,150.55 417.58,155.44 417.68,160.02 417.78,170.70 417.87,180.00 417.97,188.67 418.07,199.92 418.17,207.71 418.26,213.18 418.36,215.50 418.46,214.13 418.56,209.54 418.65,200.01 418.75,193.95 418.85,179.29 418.95,171.74 419.04,164.61 419.14,157.90 419.24,155.00 419.34,153.53 419.43,158.28 419.53,160.75 419.63,172.19 419.73,184.05 419.82,190.60 419.92,201.48 420.02,204.70 420.12,207.03 420.21,209.16 420.31,210.35 420.41,205.80 420.51,194.59 420.60,189.14 420.70,180.95 420.80,170.57 420.90,160.80 420.99,157.69 421.09,157.16 421.19,157.16 421.29,159.68 421.38,167.64 421.48,176.11 421.58,182.85 421.68,193.59 421.77,200.07 421.87,206.19 421.97,206.09 422.07,211.54 422.17,210.00 422.26,205.63 422.36,197.87 422.46,188.62 422.56,182.68 422.65,174.90 422.75,169.28 422.85,162.90 422.95,158.55 423.04,159.03 423.14,164.08 423.24,168.41 423.34,174.96 423.43,182.39 423.53,192.77 423.63,199.70 423.73,208.47 423.82,209.76 423.92,206.76 424.02,209.76 424.12,203.15 424.21,194.67 424.31,186.70 424.41,177.84 424.51,167.29 424.60,159.44 424.70,154.15 424.80,154.88 424.90,152.47 424.99,158.09 425.09,164.98 425.19,173.33 425.29,183.59 425.38,194.19 425.48,206.63 425.58,211.70 425.68,215.84 425.77,216.91 425.87,213.76 425.97,210.47 426.07,201.68 426.16,189.23 426.26,181.98 426.36,168.47 426.46,160.95 426.55,154.52 426.65,154.29 426.75,153.60 426.85,156.11 426.95,161.32 427.04,170.04 427.14,181.95 427.24,192.07 427.34,202.06 427.43,206.54 427.53,211.66 427.63,210.80 427.73,206.30 427.82,204.37 427.92,199.64 428.02,189.68 428.12,181.52 428.21,172.37 428.31,160.64 428.41,157.74 428.51,158.88 428.60,156.07 428.70,158.93 428.80,168.55 428.90,177.66 428.99,186.50 429.09,194.72 429.19,202.30 429.29,207.52 429.38,210.98 429.48,211.45 429.58,208.44 429.68,204.22 429.77,200.50 429.87,188.85 429.97,178.57 430.07,171.03 430.16,161.47 430.26,159.00 430.36,158.17 430.46,156.46 430.55,160.40 430.65,167.52 430.75,174.19 430.85,182.70 430.94,192.60 431.04,205.19 431.14,207.50 431.24,209.76 431.33,209.76 431.43,206.46 431.53,199.47 431.63,195.39 431.73,188.26 431.82,173.90 431.92,170.50 432.02,165.54 432.12,158.70 432.21,157.66 432.31,160.48 432.41,162.32 432.51,171.74 432.60,181.38 432.70,189.00 432.80,197.29 432.90,207.92 432.99,212.06 433.09,215.91 433.19,210.48 433.29,213.45 433.38,203.13 433.48,196.95 433.58,186.94 433.68,175.00 433.77,165.20 433.87,156.98 433.97,153.90 434.07,154.09 434.16,155.86 434.26,158.94 434.36,166.38 434.46,174.21 434.55,186.04 434.65,194.54 434.75,201.95 434.85,210.33 434.94,213.82 435.04,213.82 435.14,212.49 435.24,200.91 435.33,197.30 435.43,184.32 435.53,176.19 435.63,165.71 435.72,160.41 435.82,158.36 435.92,157.46 436.02,158.98 436.11,163.77 436.21,172.38 436.31,180.36 436.41,186.85 436.50,201.93 436.60,205.96 436.70,213.43 436.80,213.93 436.90,212.14 436.99,210.21 437.09,202.56 437.19,198.84 437.29,184.87 437.38,178.91 437.48,168.56 437.58,163.10 437.68,164.43 437.77,160.31 437.87,160.72 437.97,163.16 438.07,172.51 438.16,180.99 438.26,192.94 438.36,196.14 438.46,202.42 438.55,210.45 438.65,212.63 438.75,212.63 438.85,206.51 438.94,197.22 439.04,193.15 439.14,183.59 439.24,176.40 439.33,171.69 439.43,161.77 439.53,163.21 439.63,160.89 439.72,162.45 439.82,166.43 439.92,174.46 440.02,182.98 440.11,193.92 440.21,203.13 440.31,207.41 440.41,213.33 440.50,213.82 440.60,213.82 440.70,209.26 440.80,205.01 440.89,195.57 440.99,186.73 441.09,174.22 441.19,165.79 441.28,156.93 441.38,160.08 441.48,158.42 441.58,158.52 441.68,166.44 441.77,174.71 441.87,180.39 441.97,193.83 442.07,204.25 442.16,211.73 442.26,213.38 442.36,215.05 442.46,215.61 442.55,210.91 442.65,200.67 442.75,191.30 442.85,183.44 442.94,171.34 443.04,163.03 443.14,161.21 443.24,155.39 443.33,154.48 443.43,159.24 443.53,168.05 443.63,172.69 443.72,180.01 443.82,187.89 443.92,203.31 444.02,201.30 444.11,211.54 444.21,209.78 444.31,207.48 444.41,203.38 444.50,198.07 444.60,192.12 444.70,179.91 444.80,173.79 444.89,169.83 444.99,157.46 445.09,157.46 445.19,157.46 445.28,163.11 445.38,164.60 445.48,172.07 445.58,180.84 445.67,192.47 445.77,202.49 445.87,206.71 445.97,210.95 446.06,210.95 446.16,208.74 446.26,206.20 446.36,198.14 446.46,190.17 446.55,178.11 446.65,171.39 446.75,167.28 446.85,160.63 446.94,162.12 447.04,162.07 447.14,163.15 447.24,172.66 447.33,178.12 447.43,188.07 447.53,193.45 447.63,197.75 447.72,207.46 447.82,208.75 447.92,209.76 448.02,209.47 448.11,204.99 448.21,193.53 448.31,184.13 448.41,179.48 448.50,174.13 448.60,165.38 448.70,163.16 448.80,160.93 448.89,161.56 448.99,165.47 449.09,171.07 449.19,181.08 449.28,189.37 449.38,200.22 449.48,205.23 449.58,212.46 449.67,213.07 449.77,213.23 449.87,209.64 449.97,203.09 450.06,198.39 450.16,187.86 450.26,178.40 450.36,166.40 450.45,157.50 450.55,154.48 450.65,155.12 450.75,154.48 450.84,163.79 450.94,165.69 451.04,178.77 451.14,192.56 451.24,192.23 451.33,202.38 451.43,213.05 451.53,213.83 451.63,214.25 451.72,210.22 451.82,206.88 451.92,197.08 452.02,185.46 452.11,176.25 452.21,165.73 452.31,160.91 452.41,155.67 452.50,157.01 452.60,157.25 452.70,166.10 452.80,172.11 452.89,176.17 452.99,189.65 453.09,195.86 453.19,204.40 453.28,211.42 453.38,212.04 453.48,212.04 453.58,208.55 453.67,200.16 453.77,192.35 453.87,185.62 453.97,177.26 454.06,167.11 454.16,161.69 454.26,157.16 454.36,157.16 454.45,158.00 454.55,164.49 454.65,171.72 454.75,181.28 454.84,190.09 454.94,198.43 455.04,204.05 455.14,208.65 455.23,208.37 455.33,209.39 455.43,205.11 455.53,200.63 455.62,187.35 455.72,180.52 455.82,169.42 455.92,163.57 456.01,156.59 456.11,156.62 456.21,155.67 456.31,155.67 456.41,166.45 456.50,169.66 456.60,177.56 456.70,189.03 456.80,196.83 456.89,202.68 456.99,210.64 457.09,210.18 457.19,210.93 457.28,205.81 457.38,198.35 457.48,188.33 457.58,177.88 457.67,167.70 457.77,162.96 457.87,151.01 457.97,151.01 458.06,151.01 458.16,156.03 458.26,162.40 458.36,170.42 458.45,181.23 458.55,195.86 458.65,201.05 458.75,204.62 458.84,216.11 458.94,214.21 459.04,213.20 459.14,208.75 459.23,198.05 459.33,193.20 459.43,180.42 459.53,168.20 459.62,163.09 459.72,157.75 459.82,154.18 459.92,155.82 460.01,155.82 460.11,166.77 460.21,171.72 460.31,185.01 460.40,190.71 460.50,200.43 460.60,211.05 460.70,210.27 460.79,211.05 460.89,209.44 460.99,200.76 461.09,198.66 461.19,190.13 461.28,176.62 461.38,170.85 461.48,161.39 461.58,159.11 461.67,159.53 461.77,159.03 461.87,160.30 461.97,166.80 462.06,176.12 462.16,184.36 462.26,192.84 462.36,200.85 462.45,201.44 462.55,207.93 462.65,208.37 462.75,206.56 462.84,199.56 462.94,193.19 463.04,187.06 463.14,180.25 463.23,171.77 463.33,169.19 463.43,164.80 463.53,161.13 463.62,163.35 463.72,165.43 463.82,169.48 463.92,177.51 464.01,186.22 464.11,189.53 464.21,198.47 464.31,204.84 464.40,205.01 464.50,205.33 464.60,204.87 464.70,198.07 464.79,191.78 464.89,187.49 464.99,176.37 465.09,169.59 465.18,164.43 465.28,163.38 465.38,160.16 465.48,161.44 465.57,165.57 465.67,174.32 465.77,178.75 465.87,190.44 465.97,196.36 466.06,199.99 466.16,208.21 466.26,208.96 466.36,206.01 466.45,204.86 466.55,198.22 466.65,188.88 466.75,178.00 466.84,174.84 466.94,164.09 467.04,158.25 467.14,154.88 467.23,154.02 467.33,156.86 467.43,160.65 467.53,171.19 467.62,179.09 467.72,188.76 467.82,200.34 467.92,206.42 468.01,208.67 468.11,213.02 468.21,213.28 468.31,207.37 468.40,201.36 468.50,189.61 468.60,178.10 468.70,171.10 468.79,161.21 468.89,152.35 468.99,152.03 469.09,150.81 469.18,156.32 469.28,162.00 469.38,169.63 469.48,174.13 469.57,188.47 469.67,197.44 469.77,204.41 469.87,208.00 469.96,207.75 470.06,206.94 470.16,199.35 470.26,196.47 470.35,186.61 470.45,180.60 470.55,172.23 470.65,169.43 470.75,162.43 470.84,160.18 470.94,161.09 471.04,167.95 471.14,168.21 471.23,178.08 471.33,186.68 471.43,194.85 471.53,202.36 471.62,207.00 471.72,211.84 471.82,211.84 471.92,208.74 472.01,203.77 472.11,197.27 472.21,188.77 472.31,179.97 472.40,169.87 472.50,160.50 472.60,159.81 472.70,155.97 472.79,155.97 472.89,161.76 472.99,165.65 473.09,177.54 473.18,186.59 473.28,194.17 473.38,199.85 473.48,205.08 473.57,207.77 473.67,207.26 473.77,207.77 473.87,198.50 473.96,194.78 474.06,185.04 474.16,176.01 474.26,169.52 474.35,163.67 474.45,159.04 474.55,156.00 474.65,156.75 474.74,161.68 474.84,171.92 474.94,180.62 475.04,190.61 475.13,197.47 475.23,209.94 475.33,209.58 475.43,214.72 475.52,214.72 475.62,209.68 475.72,201.95 475.82,194.70 475.92,183.80 476.01,175.82 476.11,165.20 476.21,158.52 476.31,157.04 476.40,155.97 476.50,158.05 476.60,163.24 476.70,172.32 476.79,179.81 476.89,186.96 476.99,199.30 477.09,202.75 477.18,208.04 477.28,210.11 477.38,210.65 477.48,206.39 477.57,199.40 477.67,194.82 477.77,185.38 477.87,182.14 477.96,169.82 478.06,167.24 478.16,162.91 478.26,166.52 478.35,164.15 478.45,170.21 478.55,174.29 478.65,184.41 478.74,191.00 478.84,192.35 478.94,203.19 479.04,206.08 479.13,206.08 479.23,206.08 479.33,199.03 479.43,192.64 479.52,190.41 479.62,185.11 479.72,172.93 479.82,167.20 479.91,163.57 480.01,162.91 480.11,165.00 480.21,166.39 480.30,173.28 480.40,179.49 480.50,182.08 480.60,192.10 480.70,192.98 480.79,201.83 480.89,205.49 480.99,203.95 481.09,200.31 481.18,198.68 481.28,195.99 481.38,186.17 481.48,177.06 481.57,173.63 481.67,168.52 481.77,161.72 481.87,161.72 481.96,164.74 482.06,167.04 482.16,173.56 482.26,179.07 482.35,187.60 482.45,193.74 482.55,201.55 482.65,210.89 482.74,210.10 482.84,209.28 482.94,207.16 483.04,200.48 483.13,195.63 483.23,187.39 483.33,174.75 483.43,169.95 483.52,165.23 483.62,155.67 483.72,157.00 483.82,158.05 483.91,164.86 484.01,172.02 484.11,180.68 484.21,188.86 484.30,196.77 484.40,209.46 484.50,209.44 484.60,213.63 484.69,213.63 484.79,208.20 484.89,203.48 484.99,198.15 485.08,182.96 485.18,178.84 485.28,168.74 485.38,162.63 485.48,158.55 485.57,159.49 485.67,158.92 485.77,166.69 485.87,169.85 485.96,181.08 486.06,188.52 486.16,192.05 486.26,201.21 486.35,205.79 486.45,203.56 486.55,205.97 486.65,204.56 486.74,196.04 486.84,192.34 486.94,180.22 487.04,172.35 487.13,168.88 487.23,164.04 487.33,159.95 487.43,160.26 487.52,164.81 487.62,167.19 487.72,179.02 487.82,184.26 487.91,192.55 488.01,199.93 488.11,204.90 488.21,210.35 488.30,209.26 488.40,208.97 488.50,205.53 488.60,200.41 488.69,192.23 488.79,181.02 488.89,175.43 488.99,166.82 489.08,160.29 489.18,159.94 489.28,159.94 489.38,164.31 489.47,171.13 489.57,174.29 489.67,183.43 489.77,189.78 489.86,198.74 489.96,201.86 490.06,205.53 490.16,206.22 490.26,204.47 490.35,200.17 490.45,194.14 490.55,186.67 490.65,177.49 490.74,172.98 490.84,162.99 490.94,162.47 491.04,160.83 491.13,162.28 491.23,166.57 491.33,168.70 491.43,180.84 491.52,191.19 491.62,198.51 491.72,204.96 491.82,205.66 491.91,211.88 492.01,210.37 492.11,210.86 492.21,202.81 492.30,194.74 492.40,184.11 492.50,179.97 492.60,169.74 492.69,164.14 492.79,162.80 492.89,160.02 492.99,162.35 493.08,170.58 493.18,171.80 493.28,179.83 493.38,190.02 493.47,199.61 493.57,201.08 493.67,207.84 493.77,208.44 493.86,206.98 493.96,207.30 494.06,199.57 494.16,194.69 494.25,186.80 494.35,179.38 494.45,172.67 494.55,165.73 494.64,164.82 494.74,165.08 494.84,167.36 494.94,170.31 495.03,178.22 495.13,184.10 495.23,190.10 495.33,197.30 495.43,201.51 495.52,205.59 495.62,201.93 495.72,201.90 495.82,200.01 495.91,195.60 496.01,184.92 496.11,181.22 496.21,175.14 496.30,168.62 496.40,164.49 496.50,162.91 496.60,163.47 496.69,162.91 496.79,172.57 496.89,176.02 496.99,186.26 497.08,188.29 497.18,198.62 497.28,203.05 497.38,204.15 497.47,204.09 497.57,206.47 497.67,200.84 497.77,196.69 497.86,186.69 497.96,179.56 498.06,172.95 498.16,167.77 498.25,163.36 498.35,162.50 498.45,161.28 498.55,163.22 498.64,175.48 498.74,179.70 498.84,188.50 498.94,194.89 499.03,204.50 499.13,208.13 499.23,210.85 499.33,209.14 499.42,207.05 499.52,201.58 499.62,192.56 499.72,184.44 499.81,177.40 499.91,164.93 500.01,158.76 500.11,155.42 500.21,153.98 500.30,153.98 500.40,162.71 500.50,169.16 500.60,173.43 500.69,182.71 500.79,195.24 500.89,203.21 500.99,207.17 501.08,208.27 501.18,208.27 501.28,204.16 501.38,201.12 501.47,194.00 501.57,182.33 501.67,177.54 501.77,169.64 501.86,163.28 501.96,161.13 502.06,161.95 502.16,163.56 502.25,169.74 502.35,171.42 502.45,180.87 502.55,191.76 502.64,196.83 502.74,201.22 502.84,205.29 502.94,204.04 503.03,203.47 503.13,203.07 503.23,196.31 503.33,191.15 503.42,180.45 503.52,173.04 503.62,161.93 503.72,162.11 503.81,163.91 503.91,161.73 504.01,163.21 504.11,170.80 504.20,176.80 504.30,183.45 504.40,189.74 504.50,197.43 504.59,203.93 504.69,203.90 504.79,205.98 504.89,204.76 504.99,202.01 505.08,194.72 505.18,184.74 505.28,181.19 505.38,171.19 505.47,163.89 505.57,162.01 505.67,159.84 505.77,162.97 505.86,162.07 505.96,168.03 506.06,176.60 506.16,187.87 506.25,194.01 506.35,196.72 506.45,200.03 506.55,204.99 506.64,203.11 506.74,203.81 506.84,198.14 506.94,191.21 507.03,182.90 507.13,178.82 507.23,167.42 507.33,161.34 507.42,162.58 507.52,162.16 507.62,160.96 507.72,167.25 507.81,176.89 507.91,178.92 508.01,188.40 508.11,197.36 508.20,199.11 508.30,207.12 508.40,209.26 508.50,208.09 508.59,206.48 508.69,199.95 508.79,190.18 508.89,183.40 508.98,174.86 509.08,163.72 509.18,159.80 509.28,158.05 509.37,158.05 509.47,160.00 509.57,163.11 509.67,172.49 509.77,176.81 509.86,189.87 509.96,195.84 510.06,203.63 510.16,205.34 510.25,204.83 510.35,201.68 510.45,201.87 510.55,195.16 510.64,189.13 510.74,182.66 510.84,176.66 510.94,168.66 511.03,167.95 511.13,162.91 511.23,163.52 511.33,167.58 511.42,172.99 511.52,179.84 511.62,180.79 511.72,193.49 511.81,194.22 511.91,200.51 512.01,204.59 512.11,204.59 512.20,200.36 512.30,194.75 512.40,193.55 512.50,185.29 512.59,175.48 512.69,170.02 512.79,161.55 512.89,162.74 512.98,160.53 513.08,164.13 513.18,161.68 513.28,172.43 513.37,182.03 513.47,185.69 513.57,192.87 513.67,195.20 513.76,203.61 513.86,205.08 513.96,203.57 514.06,199.04 514.15,197.32 514.25,189.09 514.35,183.03 514.45,177.50 514.54,170.57 514.64,165.89 514.74,164.85 514.84,162.62 514.94,167.43 515.03,167.34 515.13,174.21 515.23,183.78 515.33,192.99 515.42,199.43 515.52,204.18 515.62,207.64 515.72,209.92 515.81,207.28 515.91,205.93 516.01,197.97 516.11,193.12 516.20,180.01 516.30,172.56 516.40,166.26 516.50,158.11 516.59,157.36 516.69,163.02 516.79,160.92 516.89,169.21 516.98,172.02 517.08,177.84 517.18,191.82 517.28,198.35 517.37,204.82 517.47,207.22 517.57,207.40 517.67,204.22 517.76,203.91 517.86,192.82 517.96,189.72 518.06,179.47 518.15,170.34 518.25,164.98 518.35,163.87 518.45,161.83 518.54,162.42 518.64,165.14 518.74,168.49 518.84,179.91 518.93,184.33 519.03,191.51 519.13,198.02 519.23,202.86 519.32,203.35 519.42,205.11 519.52,201.86 519.62,197.65 519.72,189.03 519.81,188.46 519.91,175.25 520.01,171.38 520.11,166.20 520.20,164.29 520.30,165.13 520.40,162.42"/></g>
<line x1="329.1" y1="214.3" x2="520.2" y2="139.1" stroke="#D95319" stroke-width="1.2"/>
<g fill="none" stroke-width="1">
<line x1="329.2" y1="138.8" x2="524.3" y2="138.8" stroke="#cccccc"/>
<line x1="329.2" y1="230.0" x2="524.3" y2="230.0" stroke="#cccccc"/>
<line x1="329.2" y1="138.8" x2="329.2" y2="230.0" stroke="#7fb4dc"/>
<line x1="524.3" y1="138.8" x2="524.3" y2="230.0" stroke="#efb9a2"/>
<line x1="348.71" y1="138.8" x2="348.71" y2="140.8" stroke="#cccccc"/>
<line x1="348.71" y1="230.0" x2="348.71" y2="228.0" stroke="#cccccc"/>
<line x1="368.22" y1="138.8" x2="368.22" y2="140.8" stroke="#cccccc"/>
<line x1="368.22" y1="230.0" x2="368.22" y2="228.0" stroke="#cccccc"/>
<line x1="387.73" y1="138.8" x2="387.73" y2="140.8" stroke="#cccccc"/>
<line x1="387.73" y1="230.0" x2="387.73" y2="228.0" stroke="#cccccc"/>
<line x1="407.24" y1="138.8" x2="407.24" y2="140.8" stroke="#cccccc"/>
<line x1="407.24" y1="230.0" x2="407.24" y2="228.0" stroke="#cccccc"/>
<line x1="426.75" y1="138.8" x2="426.75" y2="140.8" stroke="#cccccc"/>
<line x1="426.75" y1="230.0" x2="426.75" y2="228.0" stroke="#cccccc"/>
<line x1="446.26" y1="138.8" x2="446.26" y2="140.8" stroke="#cccccc"/>
<line x1="446.26" y1="230.0" x2="446.26" y2="228.0" stroke="#cccccc"/>
<line x1="465.77" y1="138.8" x2="465.77" y2="140.8" stroke="#cccccc"/>
<line x1="465.77" y1="230.0" x2="465.77" y2="228.0" stroke="#cccccc"/>
<line x1="485.28" y1="138.8" x2="485.28" y2="140.8" stroke="#cccccc"/>
<line x1="485.28" y1="230.0" x2="485.28" y2="228.0" stroke="#cccccc"/>
<line x1="504.79" y1="138.8" x2="504.79" y2="140.8" stroke="#cccccc"/>
<line x1="504.79" y1="230.0" x2="504.79" y2="228.0" stroke="#cccccc"/>
<line x1="329.2" y1="161.60" x2="331.2" y2="161.60" stroke="#7fb4dc"/>
<line x1="329.2" y1="184.40" x2="331.2" y2="184.40" stroke="#7fb4dc"/>
<line x1="329.2" y1="207.20" x2="331.2" y2="207.20" stroke="#7fb4dc"/>
<line x1="524.3" y1="154.80" x2="522.3" y2="154.80" stroke="#efb9a2"/>
<line x1="524.3" y1="169.82" x2="522.3" y2="169.82" stroke="#efb9a2"/>
<line x1="524.3" y1="184.84" x2="522.3" y2="184.84" stroke="#efb9a2"/>
<line x1="524.3" y1="199.86" x2="522.3" y2="199.86" stroke="#efb9a2"/>
<line x1="524.3" y1="214.88" x2="522.3" y2="214.88" stroke="#efb9a2"/>
</g>
<text x="328.30" y="141.90" font-size="6.3" text-anchor="end" fill="#0072BD" stroke="#0072BD" stroke-width="0.08">100</text>
<text x="328.30" y="164.70" font-size="6.3" text-anchor="end" fill="#0072BD" stroke="#0072BD" stroke-width="0.08">50</text>
<text x="328.30" y="187.50" font-size="6.3" text-anchor="end" fill="#0072BD" stroke="#0072BD" stroke-width="0.08">0</text>
<text x="328.30" y="210.30" font-size="6.3" text-anchor="end" fill="#0072BD" stroke="#0072BD" stroke-width="0.08">−50</text>
<text x="328.30" y="233.10" font-size="6.3" text-anchor="end" fill="#0072BD" stroke="#0072BD" stroke-width="0.08">−100</text>
<text x="525.90" y="157.10" font-size="6.3" text-anchor="start" fill="#D95319" stroke="#D95319" stroke-width="0.08">0.8</text>
<text x="525.90" y="172.12" font-size="6.3" text-anchor="start" fill="#D95319" stroke="#D95319" stroke-width="0.08">0.6</text>
<text x="525.90" y="187.14" font-size="6.3" text-anchor="start" fill="#D95319" stroke="#D95319" stroke-width="0.08">0.4</text>
<text x="525.90" y="202.16" font-size="6.3" text-anchor="start" fill="#D95319" stroke="#D95319" stroke-width="0.08">0.2</text>
<text x="525.90" y="217.18" font-size="6.3" text-anchor="start" fill="#D95319" stroke="#D95319" stroke-width="0.08">0</text>
<text x="525.90" y="232.20" font-size="6.3" text-anchor="start" fill="#D95319" stroke="#D95319" stroke-width="0.08">−0.2</text>
<text x="329.90" y="239.20" font-size="6.2" text-anchor="middle" fill="#262626" stroke="#262626" stroke-width="0.2">710</text>
<text x="349.41" y="239.20" font-size="6.2" text-anchor="middle" fill="#262626" stroke="#262626" stroke-width="0.2">720</text>
<text x="368.92" y="239.20" font-size="6.2" text-anchor="middle" fill="#262626" stroke="#262626" stroke-width="0.2">730</text>
<text x="388.43" y="239.20" font-size="6.2" text-anchor="middle" fill="#262626" stroke="#262626" stroke-width="0.2">740</text>
<text x="407.94" y="239.20" font-size="6.2" text-anchor="middle" fill="#262626" stroke="#262626" stroke-width="0.2">750</text>
<text x="427.45" y="239.20" font-size="6.2" text-anchor="middle" fill="#262626" stroke="#262626" stroke-width="0.2">760</text>
<text x="446.96" y="239.20" font-size="6.2" text-anchor="middle" fill="#262626" stroke="#262626" stroke-width="0.2">770</text>
<text x="466.47" y="239.20" font-size="6.2" text-anchor="middle" fill="#262626" stroke="#262626" stroke-width="0.2">780</text>
<text x="485.98" y="239.20" font-size="6.2" text-anchor="middle" fill="#262626" stroke="#262626" stroke-width="0.2">790</text>
<text x="505.49" y="239.20" font-size="6.2" text-anchor="middle" fill="#262626" stroke="#262626" stroke-width="0.2">800</text>
<text x="525.00" y="239.20" font-size="6.2" text-anchor="middle" fill="#262626" stroke="#262626" stroke-width="0.2">810</text>
<text x="428.85" y="249.50" font-size="6.8" text-anchor="middle" fill="#262626" stroke="#262626" stroke-width="0.2" textLength="57.60" lengthAdjust="spacingAndGlyphs">Frequency (GHz)</text>
<text x="312.10" y="181.50" font-size="7.4" text-anchor="middle" fill="#0072BD" stroke="#0072BD" stroke-width="0.08" textLength="65.80" lengthAdjust="spacingAndGlyphs" transform="rotate(-90 312.10 181.50)">Photocurrent (nA)</text>
<text x="546.30" y="180.30" font-size="7.4" text-anchor="middle" fill="#D95319" stroke="#D95319" stroke-width="0.08" textLength="67.00" lengthAdjust="spacingAndGlyphs" transform="rotate(-90 546.30 180.30)">Normalized Phase</text>
<text x="432.00" y="135.50" font-size="7.0" text-anchor="middle" fill="#111" stroke="#111" stroke-width="0.2" font-weight="bold" textLength="65.20" lengthAdjust="spacingAndGlyphs">Estimated Phase</text>
</svg></body></html>
